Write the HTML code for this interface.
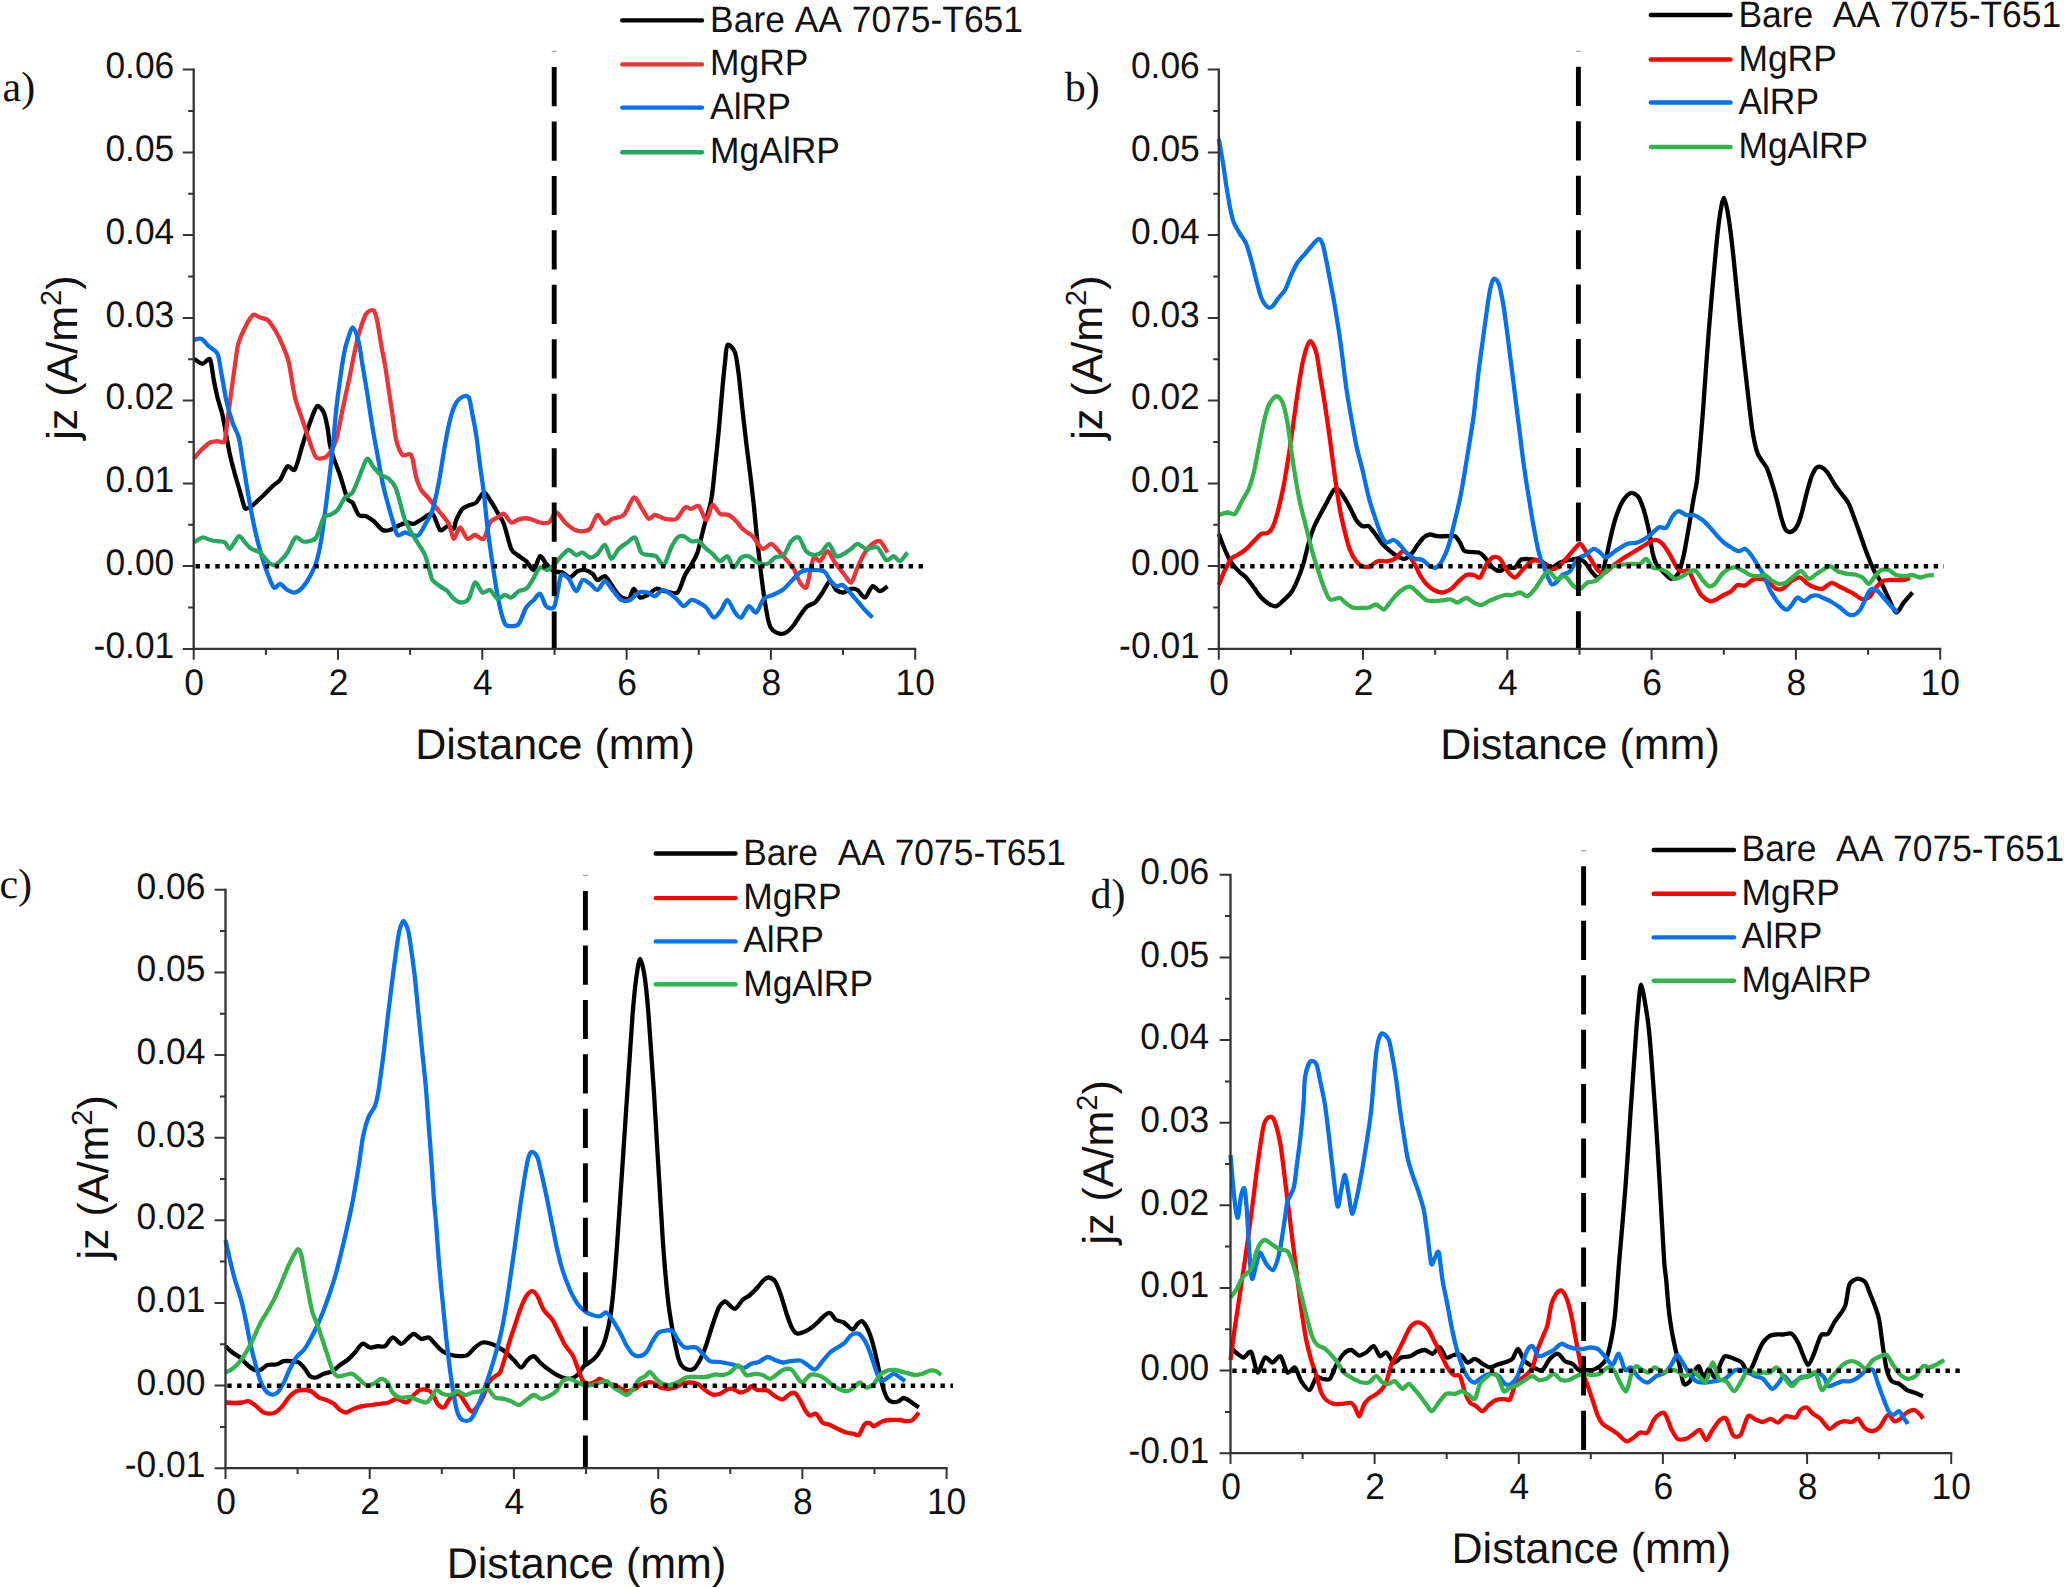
<!DOCTYPE html>
<html lang="en"><head><meta charset="utf-8"><title>jz vs Distance</title>
<style>html,body{margin:0;padding:0;background:#fff}body{width:2064px;height:1588px;overflow:hidden}svg{display:block}</style>
</head><body>
<svg width="2064" height="1588" viewBox="0 0 2064 1588" text-rendering="geometricPrecision" style="font-kerning:none">
<rect width="2064" height="1588" fill="#fff"/>
<g>
<path d="M193.8 358.8C195.0 359.5 200.2 363.6 202.5 363.8C204.8 363.9 208.4 357.2 210.0 359.5C211.6 361.8 212.7 374.6 213.8 380.0C214.8 385.4 216.3 392.5 217.5 397.5C218.7 402.5 221.3 409.7 222.5 415.0C223.7 420.3 225.2 429.3 226.2 435.0C227.3 440.7 228.9 450.0 230.0 455.0C231.1 460.0 232.5 465.4 233.8 470.0C235.0 474.6 237.3 482.5 238.8 487.5C240.2 492.5 242.8 502.0 243.8 505.0C244.7 508.0 244.4 508.6 245.5 508.8C246.6 508.9 248.8 508.0 251.2 506.2C253.7 504.5 259.5 499.1 262.5 496.2C265.5 493.4 270.0 488.6 272.5 486.2C275.0 483.9 277.9 482.8 280.0 480.0C282.1 477.2 285.4 467.8 287.5 466.2C289.6 464.7 292.9 472.3 295.0 469.2C297.1 466.2 300.4 451.6 302.5 445.0C304.6 438.4 307.9 428.0 310.0 422.5C312.1 417.0 315.1 407.7 317.0 406.2C318.9 404.8 322.3 409.5 323.8 412.5C325.2 415.5 326.6 422.9 327.5 427.5C328.4 432.1 329.1 440.6 330.0 445.0C330.9 449.4 332.3 454.5 333.8 458.8C335.2 463.0 338.1 469.3 340.0 475.0C341.9 480.7 345.7 494.9 347.5 498.8C349.3 502.6 350.9 500.2 352.5 502.5C354.1 504.8 356.8 513.1 358.8 515.0C360.7 516.9 364.1 515.4 366.2 516.2C368.4 517.1 371.4 519.3 373.8 521.2C376.1 523.2 380.2 528.8 382.5 530.0C384.8 531.2 387.5 530.7 390.0 530.0C392.5 529.3 397.5 526.1 400.0 525.0C402.5 523.9 405.6 522.7 407.5 522.5C409.4 522.3 411.6 524.3 413.8 523.8C415.9 523.2 419.8 520.2 422.5 518.8C425.2 517.3 430.0 512.2 432.5 513.8C435.0 515.3 437.9 528.2 440.0 530.0C442.1 531.8 445.6 526.4 447.5 526.2C449.4 526.1 452.5 529.6 453.8 528.8C455.0 527.9 455.0 522.8 456.2 520.0C457.5 517.2 460.6 510.9 462.5 508.8C464.4 506.6 468.1 505.9 470.0 505.0C471.9 504.1 474.3 504.3 476.2 502.5C478.2 500.7 481.8 492.9 483.8 492.5C485.7 492.1 488.1 497.2 490.0 500.0C491.9 502.8 495.6 509.1 497.5 512.5C499.4 515.9 501.8 518.6 503.8 523.8C505.7 528.9 509.3 544.3 511.2 548.8C513.2 553.2 515.4 553.2 517.5 555.0C519.6 556.8 523.9 559.1 526.2 561.2C528.6 563.4 531.8 570.7 533.8 570.0C535.7 569.3 538.2 557.1 540.0 556.2C541.8 555.4 544.3 561.6 546.2 563.8C548.2 565.9 551.4 570.0 553.8 571.2C556.1 572.5 560.2 571.6 562.5 572.5C564.8 573.4 567.9 577.7 570.0 577.5C572.1 577.3 575.4 572.3 577.5 571.2C579.6 570.2 582.9 569.6 585.0 570.0C587.1 570.4 590.7 572.3 592.5 573.8C594.3 575.2 595.7 579.6 597.5 580.0C599.3 580.4 602.9 575.4 605.0 576.2C607.1 577.1 610.4 583.4 612.5 586.2C614.6 589.1 617.7 594.5 620.0 596.2C622.3 598.0 626.8 599.8 628.8 598.8C630.7 597.7 632.2 588.9 633.8 588.8C635.3 588.6 638.1 596.6 640.0 597.5C641.9 598.4 645.2 596.2 647.5 595.0C649.8 593.8 653.8 589.3 656.2 588.8C658.7 588.2 662.0 590.7 665.0 591.2C668.0 591.8 674.7 594.8 677.5 592.5C680.3 590.2 683.1 578.9 685.0 575.0C686.9 571.1 689.5 568.2 691.2 565.0C693.0 561.8 695.7 557.8 697.5 552.5C699.3 547.2 701.8 534.9 703.8 527.5C705.7 520.1 709.7 508.5 711.2 500.0C712.8 491.5 713.9 477.4 715.0 467.5C716.1 457.6 717.7 441.3 718.8 430.0C719.8 418.7 721.6 397.1 722.5 387.5C723.4 377.9 724.3 368.5 725.0 362.5C725.7 356.5 726.1 346.4 727.5 345.0C728.9 343.6 733.4 348.2 735.0 352.5C736.6 356.8 737.7 366.9 738.8 375.0C739.8 383.1 741.4 400.4 742.5 410.0C743.6 419.6 745.2 433.6 746.2 442.5C747.3 451.4 748.9 463.6 750.0 472.5C751.1 481.4 752.7 495.1 753.8 505.0C754.8 514.9 756.4 532.6 757.5 542.5C758.6 552.4 760.2 566.5 761.2 575.0C762.3 583.5 763.9 595.8 765.0 602.5C766.1 609.2 767.7 618.6 768.8 622.5C769.8 626.4 770.9 628.4 772.5 630.0C774.1 631.6 778.1 633.4 780.0 633.8C781.9 634.1 784.3 633.7 786.2 632.5C788.2 631.3 791.6 627.7 793.8 625.0C795.9 622.3 799.3 616.4 801.2 613.8C803.2 611.1 805.6 607.8 807.5 606.2C809.4 604.7 812.9 604.4 815.0 602.5C817.1 600.6 820.4 595.5 822.5 592.5C824.6 589.5 828.1 581.6 830.0 581.2C831.9 580.9 834.3 588.4 836.2 590.0C838.2 591.6 841.6 592.7 843.8 592.5C845.9 592.3 849.3 589.1 851.2 588.8C853.2 588.4 855.6 588.8 857.5 590.0C859.4 591.2 862.9 598.0 865.0 597.5C867.1 597.0 870.4 587.1 872.5 586.2C874.6 585.4 877.9 591.2 880.0 591.2C882.1 591.2 886.4 587.0 887.5 586.2" fill="none" stroke="#000000" stroke-width="4.3" stroke-linejoin="round" stroke-linecap="butt"/>
<path d="M193.8 458.8C194.8 457.5 198.9 452.3 201.2 450.0C203.6 447.7 207.7 443.7 210.0 442.5C212.3 441.3 215.4 441.4 217.5 441.2C219.6 441.1 223.1 444.3 224.5 441.2C225.9 438.2 226.5 426.9 227.5 420.0C228.5 413.1 230.2 400.3 231.2 392.5C232.3 384.7 234.0 371.7 235.0 365.0C236.0 358.3 236.6 350.3 238.0 345.0C239.4 339.7 242.9 331.8 245.0 327.5C247.1 323.2 250.9 316.4 253.0 315.0C255.1 313.6 257.9 316.8 260.0 317.5C262.1 318.2 265.4 318.2 267.5 320.0C269.6 321.8 272.9 326.5 275.0 330.0C277.1 333.5 280.6 340.4 282.5 345.0C284.4 349.6 287.0 355.1 288.8 362.5C290.5 369.9 293.1 389.4 295.0 397.5C296.9 405.6 300.4 413.6 302.5 420.0C304.6 426.4 308.1 437.2 310.0 442.5C311.9 447.8 314.1 455.4 316.2 457.5C318.4 459.6 323.1 458.2 325.0 457.5C326.9 456.8 328.4 455.0 330.0 452.5C331.6 450.0 334.5 446.0 336.2 440.0C338.0 434.0 340.6 419.2 342.5 410.0C344.4 400.8 348.2 383.5 350.0 375.0C351.8 366.5 353.6 356.4 355.0 350.0C356.4 343.6 358.4 335.1 360.0 330.0C361.6 324.9 364.3 316.5 366.2 313.8C368.2 311.0 372.2 309.3 373.8 310.5C375.3 311.7 376.4 317.6 377.5 322.5C378.6 327.4 380.2 339.0 381.2 345.0C382.3 351.0 383.9 358.6 385.0 365.0C386.1 371.4 387.7 382.9 388.8 390.0C389.8 397.1 391.4 407.9 392.5 415.0C393.6 422.1 394.8 434.3 396.2 440.0C397.7 445.7 400.4 452.9 402.5 455.0C404.6 457.1 409.3 451.8 411.2 455.0C413.2 458.2 414.8 472.5 416.2 477.5C417.7 482.5 419.3 486.8 421.2 490.0C423.2 493.2 427.3 496.8 430.0 500.0C432.7 503.2 437.3 509.1 440.0 512.5C442.7 515.9 446.8 520.0 448.8 523.8C450.7 527.5 452.2 538.2 453.8 538.8C455.3 539.3 458.1 527.5 460.0 527.5C461.9 527.5 465.4 537.7 467.5 538.8C469.6 539.8 472.7 535.0 475.0 535.0C477.3 535.0 481.6 540.5 483.8 538.8C485.9 537.0 488.1 525.5 490.0 522.5C491.9 519.5 495.6 518.7 497.5 517.5C499.4 516.3 501.8 513.0 503.8 513.8C505.7 514.5 508.9 521.8 511.2 522.5C513.6 523.2 517.3 519.3 520.0 518.8C522.7 518.2 527.2 518.2 530.0 518.8C532.8 519.3 537.3 522.0 540.0 522.5C542.7 523.0 546.4 523.9 548.8 522.5C551.1 521.1 553.9 512.5 556.2 512.5C558.6 512.5 562.3 520.0 565.0 522.5C567.7 525.0 572.5 528.8 575.0 530.0C577.5 531.2 580.4 531.4 582.5 531.2C584.6 531.1 587.9 531.1 590.0 528.8C592.1 526.4 595.4 515.7 597.5 515.0C599.6 514.3 602.9 523.2 605.0 523.8C607.1 524.3 609.8 520.0 612.5 518.8C615.2 517.5 620.7 518.0 623.8 515.0C626.8 512.0 631.3 498.6 633.8 497.5C636.2 496.4 639.1 504.5 641.2 507.5C643.4 510.5 646.8 517.7 648.8 518.8C650.7 519.8 652.7 515.0 655.0 515.0C657.3 515.0 662.0 518.2 665.0 518.8C668.0 519.3 673.4 520.3 676.2 518.8C679.1 517.2 682.9 508.9 685.0 507.5C687.1 506.1 689.3 508.9 691.2 508.8C693.2 508.6 696.6 504.7 698.8 506.2C700.9 507.8 704.3 520.2 706.2 520.0C708.2 519.8 710.6 505.9 712.5 505.0C714.4 504.1 717.7 512.3 720.0 513.8C722.3 515.2 726.4 513.9 728.8 515.0C731.1 516.1 734.1 519.1 736.2 521.2C738.4 523.4 741.4 527.9 743.8 530.0C746.1 532.1 749.8 533.6 752.5 536.2C755.2 538.9 759.8 547.7 762.5 548.8C765.2 549.8 768.8 543.2 771.2 543.8C773.7 544.3 777.7 550.0 780.0 552.5C782.3 555.0 785.6 558.9 787.5 561.2C789.4 563.6 792.0 565.7 793.8 568.8C795.5 571.8 798.2 579.8 800.0 582.5C801.8 585.2 804.8 588.9 806.2 587.5C807.7 586.1 808.9 576.8 810.0 572.5C811.1 568.2 812.3 559.1 813.8 557.5C815.2 555.9 818.1 562.1 820.0 561.2C821.9 560.4 825.4 551.1 827.5 551.2C829.6 551.4 832.7 559.3 835.0 562.5C837.3 565.7 841.4 570.9 843.8 573.8C846.1 576.6 849.3 583.4 851.2 582.5C853.2 581.6 855.6 571.8 857.5 567.5C859.4 563.2 862.9 555.9 865.0 552.5C867.1 549.1 870.4 545.3 872.5 543.8C874.6 542.2 877.9 540.0 880.0 541.2C882.1 542.5 886.4 550.9 887.5 552.5" fill="none" stroke="#ee3338" stroke-width="4.3" stroke-linejoin="round" stroke-linecap="butt"/>
<path d="M193.8 340.0C194.8 339.8 199.1 337.9 201.2 338.8C203.4 339.6 206.4 344.1 208.8 346.2C211.1 348.4 215.7 350.0 217.5 353.8C219.3 357.5 220.0 365.9 221.2 372.5C222.5 379.1 224.7 392.9 226.2 400.0C227.8 407.1 230.7 417.2 232.5 422.5C234.3 427.8 237.3 432.2 238.8 437.5C240.2 442.8 241.4 453.6 242.5 460.0C243.6 466.4 245.2 476.1 246.2 482.5C247.3 488.9 248.8 498.3 250.0 505.0C251.2 511.7 253.6 523.6 255.0 530.0C256.4 536.4 258.4 544.3 260.0 550.0C261.6 555.7 264.3 564.7 266.2 570.0C268.2 575.3 271.8 585.6 273.8 587.5C275.7 589.4 278.1 583.4 280.0 583.8C281.9 584.1 285.4 588.8 287.5 590.0C289.6 591.2 292.9 592.9 295.0 592.5C297.1 592.1 300.4 589.8 302.5 587.5C304.6 585.2 308.1 579.8 310.0 576.2C311.9 572.7 314.7 567.6 316.2 562.5C317.8 557.4 320.0 547.1 321.2 540.0C322.5 532.9 323.9 520.6 325.0 512.5C326.1 504.4 327.7 491.4 328.8 482.5C329.8 473.6 331.4 460.3 332.5 450.0C333.6 439.7 335.2 419.9 336.2 410.0C337.3 400.1 338.9 387.8 340.0 380.0C341.1 372.2 342.7 360.7 343.8 355.0C344.8 349.3 346.2 343.9 347.5 340.0C348.8 336.1 351.4 327.1 353.0 327.5C354.6 327.9 357.4 337.2 358.8 342.5C360.1 347.8 361.3 357.6 362.5 365.0C363.7 372.4 366.1 386.1 367.5 395.0C368.9 403.9 371.1 419.0 372.5 427.5C373.9 436.0 376.1 447.2 377.5 455.0C378.9 462.8 381.1 475.8 382.5 482.5C383.9 489.2 386.1 497.2 387.5 502.5C388.9 507.8 391.1 515.4 392.5 520.0C393.9 524.6 395.7 533.2 397.5 535.0C399.3 536.8 402.9 532.5 405.0 532.5C407.1 532.5 410.6 534.6 412.5 535.0C414.4 535.4 416.8 536.8 418.8 535.0C420.7 533.2 424.3 526.0 426.2 522.5C428.2 519.0 430.7 515.7 432.5 510.0C434.3 504.3 437.0 491.7 438.8 482.5C440.5 473.3 443.4 453.9 445.0 445.0C446.6 436.1 448.6 425.7 450.0 420.0C451.4 414.3 453.4 408.2 455.0 405.0C456.6 401.8 459.3 398.6 461.2 397.5C463.2 396.4 467.2 395.0 468.8 397.5C470.3 400.0 471.4 409.7 472.5 415.0C473.6 420.3 475.2 427.9 476.2 435.0C477.3 442.1 478.9 456.9 480.0 465.0C481.1 473.1 482.7 483.6 483.8 492.5C484.8 501.4 486.4 518.6 487.5 527.5C488.6 536.4 490.2 547.6 491.2 555.0C492.3 562.4 493.8 572.6 495.0 580.0C496.2 587.4 498.6 601.3 500.0 607.5C501.4 613.7 503.4 621.1 505.0 623.8C506.6 626.4 509.3 626.2 511.2 626.2C513.2 626.2 516.6 626.4 518.8 623.8C520.9 621.1 524.1 610.9 526.2 607.5C528.4 604.1 531.8 601.9 533.8 600.0C535.7 598.1 538.2 592.9 540.0 593.8C541.8 594.6 544.3 604.3 546.2 606.2C548.2 608.2 552.2 609.4 553.8 607.5C555.3 605.6 556.4 597.1 557.5 592.5C558.6 587.9 559.7 576.9 561.2 575.0C562.8 573.1 566.6 576.4 568.8 578.8C570.9 581.1 574.3 591.1 576.2 591.2C578.2 591.4 580.6 581.1 582.5 580.0C584.4 578.9 587.9 582.3 590.0 583.8C592.1 585.2 595.4 590.4 597.5 590.0C599.6 589.6 602.9 581.2 605.0 581.2C607.1 581.2 610.2 587.3 612.5 590.0C614.8 592.7 618.8 598.6 621.2 600.0C623.7 601.4 627.5 601.1 630.0 600.0C632.5 598.9 636.3 593.6 638.8 592.5C641.2 591.4 645.2 592.0 647.5 592.5C649.8 593.0 652.9 596.6 655.0 596.2C657.1 595.9 660.4 590.4 662.5 590.0C664.6 589.6 667.9 592.3 670.0 593.8C672.1 595.2 675.6 598.2 677.5 600.0C679.4 601.8 681.8 606.2 683.8 606.2C685.7 606.2 689.1 600.5 691.2 600.0C693.4 599.5 696.6 601.4 698.8 602.5C700.9 603.6 704.1 605.4 706.2 607.5C708.4 609.6 711.6 617.1 713.8 617.5C715.9 617.9 719.3 612.5 721.2 610.0C723.2 607.5 725.6 599.6 727.5 600.0C729.4 600.4 733.1 610.0 735.0 612.5C736.9 615.0 739.3 618.4 741.2 617.5C743.2 616.6 746.6 607.0 748.8 606.2C750.9 605.5 754.1 613.6 756.2 612.5C758.4 611.4 761.4 601.2 763.8 598.8C766.1 596.3 769.8 596.2 772.5 595.0C775.2 593.8 779.8 591.9 782.5 590.0C785.2 588.1 788.8 583.7 791.2 581.2C793.7 578.8 797.7 574.1 800.0 572.5C802.3 570.9 804.1 570.2 807.5 570.0C810.9 569.8 820.6 569.8 823.8 571.2C826.9 572.7 828.2 577.9 830.0 580.0C831.8 582.1 834.5 585.5 836.2 586.2C838.0 587.0 840.6 584.1 842.5 585.0C844.4 585.9 847.9 590.2 850.0 592.5C852.1 594.8 855.4 598.8 857.5 601.2C859.6 603.7 862.9 607.7 865.0 610.0C867.1 612.3 871.4 616.4 872.5 617.5" fill="none" stroke="#0670e6" stroke-width="4.3" stroke-linejoin="round" stroke-linecap="butt"/>
<path d="M193.8 542.5C195.0 541.8 200.2 537.9 202.5 537.5C204.8 537.1 207.9 539.5 210.0 540.0C212.1 540.5 215.4 540.9 217.5 541.2C219.6 541.6 223.2 541.4 225.0 542.5C226.8 543.6 228.1 549.6 230.0 548.8C231.9 547.9 236.6 537.1 238.8 536.2C240.9 535.4 243.2 540.7 245.0 542.5C246.8 544.3 249.1 547.3 251.2 548.8C253.4 550.2 257.7 550.7 260.0 552.5C262.3 554.3 265.6 559.5 267.5 561.2C269.4 563.0 272.0 565.0 273.8 565.0C275.5 565.0 278.1 563.0 280.0 561.2C281.9 559.5 285.3 555.9 287.5 552.5C289.7 549.1 293.4 539.1 295.5 537.5C297.6 535.9 300.6 540.7 302.5 541.2C304.4 541.8 306.8 541.8 308.8 541.2C310.7 540.7 314.1 540.9 316.2 537.5C318.4 534.1 321.8 520.7 323.8 517.5C325.7 514.3 328.1 516.1 330.0 515.0C331.9 513.9 335.4 512.5 337.5 510.0C339.6 507.5 342.9 500.0 345.0 497.5C347.1 495.0 350.4 495.7 352.5 492.5C354.6 489.3 357.9 479.8 360.0 475.0C362.1 470.2 365.1 459.8 367.0 458.8C368.9 457.7 371.7 465.2 373.8 467.5C375.8 469.8 379.1 473.4 381.2 475.0C383.4 476.6 386.7 477.0 388.8 478.8C390.8 480.5 393.9 484.1 395.5 487.5C397.1 490.9 398.7 497.9 400.0 502.5C401.3 507.1 403.4 515.8 405.0 520.0C406.6 524.2 409.5 529.3 411.2 532.5C413.0 535.7 415.6 539.3 417.5 542.5C419.4 545.7 423.2 550.8 425.0 555.0C426.8 559.2 428.9 569.0 430.0 572.5C431.1 576.0 431.1 578.1 432.5 580.0C433.9 581.9 437.9 584.7 440.0 586.2C442.1 587.8 445.6 589.5 447.5 591.2C449.4 593.0 451.8 597.2 453.8 598.8C455.7 600.3 459.1 602.5 461.2 602.5C463.4 602.5 466.8 601.6 468.8 598.8C470.7 595.9 473.1 583.4 475.0 582.5C476.9 581.6 480.4 591.4 482.5 592.5C484.6 593.6 487.9 589.1 490.0 590.0C492.1 590.9 495.4 598.0 497.5 598.8C499.6 599.5 503.1 595.2 505.0 595.0C506.9 594.8 509.3 598.0 511.2 597.5C513.2 597.0 516.6 592.5 518.8 591.2C520.9 590.0 524.3 590.3 526.2 588.8C528.2 587.2 530.6 583.0 532.5 580.0C534.4 577.0 537.9 568.9 540.0 567.5C542.1 566.1 545.6 570.4 547.5 570.0C549.4 569.6 551.6 567.1 553.8 565.0C555.9 562.9 560.4 557.1 562.5 555.0C564.6 552.9 566.8 550.0 568.8 550.0C570.7 550.0 574.3 554.6 576.2 555.0C578.2 555.4 580.6 552.1 582.5 552.5C584.4 552.9 587.9 557.3 590.0 557.5C592.1 557.7 595.4 555.5 597.5 553.8C599.6 552.0 603.1 544.3 605.0 545.0C606.9 545.7 609.3 558.2 611.2 558.8C613.2 559.3 616.4 551.1 618.8 548.8C621.1 546.4 625.2 544.1 627.5 542.5C629.8 540.9 633.1 536.1 635.0 537.5C636.9 538.9 639.3 550.0 641.2 552.5C643.2 555.0 646.6 554.5 648.8 555.0C650.9 555.5 654.1 554.8 656.2 556.2C658.4 557.7 661.6 566.2 663.8 565.0C665.9 563.8 669.3 551.4 671.2 547.5C673.2 543.6 675.7 539.1 677.5 537.5C679.3 535.9 681.8 535.7 683.8 536.2C685.7 536.8 689.1 540.5 691.2 541.2C693.4 542.0 696.6 540.2 698.8 541.2C700.9 542.3 704.3 547.0 706.2 548.8C708.2 550.5 710.6 552.0 712.5 553.8C714.4 555.5 717.9 560.9 720.0 561.2C722.1 561.6 725.6 555.4 727.5 556.2C729.4 557.1 731.8 567.3 733.8 567.5C735.7 567.7 739.1 559.1 741.2 557.5C743.4 555.9 746.4 555.5 748.8 556.2C751.1 557.0 754.8 561.4 757.5 562.5C760.2 563.6 765.0 564.5 767.5 563.8C770.0 563.0 772.7 558.7 775.0 557.5C777.3 556.3 781.4 557.3 783.8 555.0C786.1 552.7 789.1 543.7 791.2 541.2C793.4 538.8 796.6 536.1 798.8 537.5C800.9 538.9 804.1 548.8 806.2 551.2C808.4 553.7 811.6 554.8 813.8 555.0C815.9 555.2 819.1 554.1 821.2 552.5C823.4 550.9 826.6 543.2 828.8 543.8C830.9 544.3 834.1 554.8 836.2 556.2C838.4 557.7 841.6 554.8 843.8 553.8C845.9 552.7 849.3 550.2 851.2 548.8C853.2 547.3 855.4 543.8 857.5 543.8C859.6 543.8 863.4 548.2 866.2 548.8C869.1 549.3 874.7 545.9 877.5 547.5C880.3 549.1 883.9 558.8 886.2 560.0C888.6 561.2 891.8 556.1 893.8 556.2C895.7 556.4 898.1 561.8 900.0 561.2C901.9 560.7 906.4 553.7 907.5 552.5" fill="none" stroke="#27a660" stroke-width="4.3" stroke-linejoin="round" stroke-linecap="butt"/>
<line x1="195.5" y1="566.2" x2="925.0" y2="566.2" stroke="#000" stroke-width="4.5" stroke-dasharray="4.4 5.505"/>
<line x1="554.2" y1="67.0" x2="554.2" y2="648.9" stroke="#000" stroke-width="4.9" stroke-dasharray="39.2 15.25"/>
<rect x="551.7" y="50.8" width="5" height="1.3" fill="#a8a8a8"/>
<path d="M193.7 68.5V648.9H916.3" fill="none" stroke="#333333" stroke-width="2.3" stroke-linejoin="miter"/>
<path d="M193.7 648.9H182.8M193.7 607.5H188.2M193.7 566.1H182.8M193.7 524.8H188.2M193.7 483.4H182.8M193.7 442.0H188.2M193.7 400.6H182.8M193.7 359.2H188.2M193.7 317.9H182.8M193.7 276.5H188.2M193.7 235.1H182.8M193.7 193.7H188.2M193.7 152.4H182.8M193.7 111.0H188.2M193.7 69.6H182.8M193.7 648.9V659.8M265.9 648.9V654.7M338.0 648.9V659.8M410.1 648.9V654.7M482.3 648.9V659.8M554.5 648.9V654.7M626.6 648.9V659.8M698.8 648.9V654.7M770.9 648.9V659.8M843.0 648.9V654.7M915.2 648.9V659.8" fill="none" stroke="#333333" stroke-width="2.0"/>
<g font-family="Liberation Sans, Arial, sans-serif" font-size="35.4" fill="#111">
<text transform="translate(174.3 657.5) scale(0.9611 1)" font-size="36.83" text-anchor="end">-0.01</text>
<text transform="translate(174.3 574.7) scale(0.9611 1)" font-size="36.83" text-anchor="end">0.00</text>
<text transform="translate(174.3 492.0) scale(0.9611 1)" font-size="36.83" text-anchor="end">0.01</text>
<text transform="translate(174.3 409.2) scale(0.9611 1)" font-size="36.83" text-anchor="end">0.02</text>
<text transform="translate(174.3 326.5) scale(0.9611 1)" font-size="36.83" text-anchor="end">0.03</text>
<text transform="translate(174.3 243.7) scale(0.9611 1)" font-size="36.83" text-anchor="end">0.04</text>
<text transform="translate(174.3 161.0) scale(0.9611 1)" font-size="36.83" text-anchor="end">0.05</text>
<text transform="translate(174.3 78.2) scale(0.9611 1)" font-size="36.83" text-anchor="end">0.06</text>
<text transform="translate(194.2 694.6) scale(0.9611 1)" font-size="36.83" text-anchor="middle">0</text>
<text transform="translate(338.5 694.6) scale(0.9611 1)" font-size="36.83" text-anchor="middle">2</text>
<text transform="translate(482.8 694.6) scale(0.9611 1)" font-size="36.83" text-anchor="middle">4</text>
<text transform="translate(627.1 694.6) scale(0.9611 1)" font-size="36.83" text-anchor="middle">6</text>
<text transform="translate(771.4 694.6) scale(0.9611 1)" font-size="36.83" text-anchor="middle">8</text>
<text transform="translate(915.2 694.6) scale(0.9611 1)" font-size="36.83" text-anchor="middle">10</text>
<text transform="translate(710.1 32.0) scale(0.9611 1)" font-size="36.83" text-anchor="start">Bare AA 7075-T651</text>
<text transform="translate(710.1 75.4) scale(0.9611 1)" font-size="36.83" text-anchor="start">MgRP</text>
<text transform="translate(710.1 119.0) scale(0.9611 1)" font-size="36.83" text-anchor="start">AlRP</text>
<text transform="translate(710.1 162.6) scale(0.9611 1)" font-size="36.83" text-anchor="start">MgAlRP</text>
</g>
<line x1="622.3" y1="20.4" x2="702.0" y2="20.4" stroke="#000000" stroke-width="4.4" stroke-linecap="round"/>
<line x1="622.3" y1="64.4" x2="702.0" y2="64.4" stroke="#ee3338" stroke-width="4.4" stroke-linecap="round"/>
<line x1="622.3" y1="107.6" x2="702.0" y2="107.6" stroke="#0670e6" stroke-width="4.4" stroke-linecap="round"/>
<line x1="622.3" y1="152.2" x2="702.0" y2="152.2" stroke="#27a660" stroke-width="4.4" stroke-linecap="round"/>
<text font-family="Liberation Sans, Arial, sans-serif" font-size="43.0" fill="#111" x="555.0" y="758.6" text-anchor="middle">Distance (mm)</text>
<text font-family="Liberation Sans, Arial, sans-serif" font-size="43.0" fill="#111" text-anchor="middle" transform="translate(76.9 357.6) rotate(-90)">jz (A/m<tspan font-size="29" dy="-15.6">2</tspan><tspan dy="15.6">)</tspan></text>
<text font-family="Liberation Serif, Times New Roman, serif" font-size="42" fill="#111" x="2.6" y="101.0">a)</text>
</g>
<g>
<path d="M1218.8 533.8C1219.6 536.1 1223.2 545.9 1225.0 550.0C1226.8 554.1 1229.3 559.5 1231.2 562.5C1233.2 565.5 1236.6 569.1 1238.8 571.2C1240.9 573.4 1244.1 575.2 1246.2 577.5C1248.4 579.8 1251.6 584.7 1253.8 587.5C1255.9 590.3 1259.1 595.2 1261.2 597.5C1263.4 599.8 1266.6 602.5 1268.8 603.8C1270.9 605.0 1274.1 606.8 1276.2 606.2C1278.4 605.7 1281.6 601.9 1283.8 600.0C1285.9 598.1 1289.3 595.3 1291.2 592.5C1293.2 589.7 1295.7 584.2 1297.5 580.0C1299.3 575.8 1302.2 567.8 1303.8 562.5C1305.3 557.2 1307.3 547.5 1308.8 542.5C1310.2 537.5 1312.2 531.4 1313.8 527.5C1315.3 523.6 1318.1 518.7 1320.0 515.0C1321.9 511.3 1325.6 504.8 1327.5 501.2C1329.4 497.7 1332.2 491.6 1333.8 490.0C1335.3 488.4 1337.2 488.8 1338.8 490.0C1340.3 491.2 1343.2 495.9 1345.0 498.8C1346.8 501.6 1349.7 507.0 1351.2 510.0C1352.8 513.0 1354.7 517.7 1356.2 520.0C1357.8 522.3 1360.7 525.4 1362.5 526.2C1364.3 527.1 1367.0 525.2 1368.8 526.2C1370.5 527.3 1373.2 531.4 1375.0 533.8C1376.8 536.1 1379.3 540.2 1381.2 542.5C1383.2 544.8 1386.4 548.1 1388.8 550.0C1391.1 551.9 1395.2 555.0 1397.5 556.2C1399.8 557.5 1402.9 559.3 1405.0 558.8C1407.1 558.2 1410.7 554.4 1412.5 552.5C1414.3 550.6 1415.9 547.1 1417.5 545.0C1419.1 542.9 1422.0 539.0 1423.8 537.5C1425.5 536.0 1428.1 534.7 1430.0 534.5C1431.9 534.3 1435.2 536.0 1437.5 536.2C1439.8 536.5 1443.8 536.2 1446.2 536.2C1448.7 536.2 1453.1 535.4 1455.0 536.2C1456.9 537.1 1458.6 540.4 1460.0 542.5C1461.4 544.6 1462.3 549.8 1465.0 551.2C1467.7 552.7 1475.9 551.6 1478.8 552.5C1481.6 553.4 1483.1 555.4 1485.0 557.5C1486.9 559.6 1490.4 565.6 1492.5 567.5C1494.6 569.4 1498.1 571.2 1500.0 571.2C1501.9 571.2 1504.1 568.0 1506.2 567.5C1508.4 567.0 1512.9 568.6 1515.0 567.5C1517.1 566.4 1518.8 560.6 1521.2 559.5C1523.7 558.4 1529.7 559.3 1532.5 559.5C1535.3 559.7 1538.6 560.1 1541.2 561.2C1543.9 562.4 1548.6 567.3 1551.2 567.5C1553.9 567.7 1557.3 563.6 1560.0 562.5C1562.7 561.4 1567.3 560.5 1570.0 560.0C1572.7 559.5 1576.6 558.4 1578.8 558.8C1580.9 559.1 1583.2 560.7 1585.0 562.5C1586.8 564.3 1589.5 569.1 1591.2 571.2C1593.0 573.4 1595.9 577.3 1597.5 577.5C1599.1 577.7 1601.3 575.3 1602.5 572.5C1603.7 569.7 1605.2 562.1 1606.2 557.5C1607.3 552.9 1608.8 545.3 1610.0 540.0C1611.2 534.7 1613.4 525.1 1615.0 520.0C1616.6 514.9 1619.5 507.3 1621.2 503.8C1623.0 500.2 1625.9 496.5 1627.5 495.0C1629.1 493.5 1630.9 492.6 1632.5 493.0C1634.1 493.4 1637.2 495.1 1638.8 497.5C1640.3 499.9 1642.3 505.4 1643.8 510.0C1645.2 514.6 1647.5 524.0 1648.8 530.0C1650.0 536.0 1651.4 547.7 1652.5 552.5C1653.6 557.3 1654.8 561.1 1656.2 563.8C1657.7 566.4 1660.4 569.1 1662.5 571.2C1664.6 573.4 1668.9 578.6 1671.2 578.8C1673.6 578.9 1677.0 575.9 1678.8 572.5C1680.5 569.1 1682.3 561.4 1683.8 555.0C1685.2 548.6 1687.3 535.6 1688.8 527.5C1690.2 519.4 1692.6 504.2 1693.8 497.5C1694.9 490.8 1696.0 488.6 1697.0 480.2C1698.0 471.7 1699.9 448.2 1700.8 437.8C1701.7 427.5 1702.1 421.9 1703.3 406.8C1704.4 391.7 1707.0 352.7 1708.8 331.2C1710.5 309.8 1713.8 271.7 1715.4 255.6C1716.9 239.5 1718.3 226.0 1719.5 217.8C1720.7 209.6 1722.6 198.0 1723.9 198.0C1725.2 198.0 1727.3 209.6 1728.6 217.8C1729.9 226.0 1731.6 239.5 1733.3 255.6C1735.1 271.7 1738.6 309.8 1740.9 331.2C1743.2 352.7 1747.7 392.1 1749.4 406.8C1751.1 421.6 1752.0 428.5 1753.2 435.2C1754.4 441.9 1756.0 449.5 1757.9 454.1C1759.8 458.7 1764.5 463.6 1766.4 467.3C1768.3 471.0 1769.7 475.9 1771.1 480.2C1772.5 484.5 1774.8 492.2 1776.2 497.5C1777.7 502.8 1780.0 513.1 1781.2 517.5C1782.5 521.9 1783.8 526.7 1785.0 528.8C1786.2 530.8 1788.4 532.2 1790.0 532.0C1791.6 531.8 1794.7 529.9 1796.2 527.5C1797.8 525.1 1799.8 519.6 1801.2 515.0C1802.7 510.4 1804.8 500.3 1806.2 495.0C1807.7 489.7 1809.8 481.3 1811.2 477.5C1812.7 473.7 1814.8 469.5 1816.2 468.0C1817.7 466.5 1819.7 466.4 1821.2 467.0C1822.8 467.6 1825.6 469.9 1827.5 472.5C1829.4 475.1 1832.9 481.8 1835.0 485.0C1837.1 488.2 1840.6 492.3 1842.5 495.0C1844.4 497.7 1847.0 500.2 1848.8 503.8C1850.5 507.3 1853.2 515.2 1855.0 520.0C1856.8 524.8 1859.5 532.5 1861.2 537.5C1863.0 542.5 1865.7 550.4 1867.5 555.0C1869.3 559.6 1871.8 566.1 1873.8 570.0C1875.7 573.9 1879.1 578.4 1881.2 582.5C1883.4 586.6 1886.6 594.5 1888.8 598.8C1890.9 603.0 1894.1 612.0 1896.2 612.5C1898.4 613.0 1901.4 605.3 1903.8 602.5C1906.1 599.7 1911.3 593.9 1912.5 592.5" fill="none" stroke="#000000" stroke-width="4.3" stroke-linejoin="round" stroke-linecap="butt"/>
<path d="M1218.8 585.0C1219.6 582.9 1223.2 573.7 1225.0 570.0C1226.8 566.3 1229.5 560.9 1231.2 558.8C1233.0 556.6 1235.6 556.2 1237.5 555.0C1239.4 553.8 1242.7 551.9 1245.0 550.0C1247.3 548.1 1251.4 543.6 1253.8 541.2C1256.1 538.9 1259.3 534.9 1261.2 533.8C1263.2 532.6 1265.9 533.9 1267.5 533.0C1269.1 532.1 1271.1 530.4 1272.5 527.5C1273.9 524.6 1275.9 518.5 1277.5 512.5C1279.1 506.5 1282.2 493.1 1283.8 485.0C1285.3 476.9 1287.3 464.2 1288.8 455.0C1290.2 445.8 1292.3 429.9 1293.8 420.0C1295.2 410.1 1297.3 393.9 1298.8 385.0C1300.2 376.1 1302.2 363.7 1303.8 357.5C1305.3 351.3 1308.2 342.0 1310.0 341.2C1311.8 340.5 1314.8 347.7 1316.2 352.5C1317.7 357.3 1318.8 367.6 1320.0 375.0C1321.2 382.4 1323.6 395.8 1325.0 405.0C1326.4 414.2 1328.6 429.7 1330.0 440.0C1331.4 450.3 1333.6 467.6 1335.0 477.5C1336.4 487.4 1338.6 502.2 1340.0 510.0C1341.4 517.8 1343.6 526.8 1345.0 532.5C1346.4 538.2 1348.4 545.9 1350.0 550.0C1351.6 554.1 1354.5 558.9 1356.2 561.2C1358.0 563.6 1360.6 565.5 1362.5 566.2C1364.4 567.0 1367.9 567.0 1370.0 566.2C1372.1 565.5 1375.0 562.0 1377.5 561.2C1380.0 560.5 1385.0 561.6 1387.5 561.2C1390.0 560.9 1392.9 560.2 1395.0 558.8C1397.1 557.3 1400.6 551.8 1402.5 551.2C1404.4 550.7 1407.0 553.1 1408.8 555.0C1410.5 556.9 1413.4 562.2 1415.0 565.0C1416.6 567.8 1418.4 572.3 1420.0 575.0C1421.6 577.7 1424.3 581.6 1426.2 583.8C1428.2 585.9 1431.4 588.8 1433.8 590.0C1436.1 591.2 1440.0 592.7 1442.5 592.5C1445.0 592.3 1448.9 590.3 1451.2 588.8C1453.6 587.2 1456.6 583.2 1458.8 581.2C1460.9 579.3 1464.1 575.9 1466.2 575.0C1468.4 574.1 1471.8 574.6 1473.8 575.0C1475.7 575.4 1478.2 578.9 1480.0 577.5C1481.8 576.1 1484.5 567.8 1486.2 565.0C1488.0 562.2 1490.6 558.4 1492.5 557.5C1494.4 556.6 1497.9 556.8 1500.0 558.8C1502.1 560.7 1505.4 568.6 1507.5 571.2C1509.6 573.9 1512.9 577.7 1515.0 577.5C1517.1 577.3 1520.4 572.1 1522.5 570.0C1524.6 567.9 1528.1 563.9 1530.0 562.5C1531.9 561.1 1534.3 559.8 1536.2 560.0C1538.2 560.2 1541.6 562.5 1543.8 563.8C1545.9 565.0 1549.3 568.2 1551.2 568.8C1553.2 569.3 1555.6 568.7 1557.5 567.5C1559.4 566.3 1562.9 562.3 1565.0 560.0C1567.1 557.7 1570.4 553.6 1572.5 551.2C1574.6 548.9 1578.2 543.9 1580.0 543.8C1581.8 543.6 1583.4 547.7 1585.0 550.0C1586.6 552.3 1589.3 557.0 1591.2 560.0C1593.2 563.0 1596.8 569.5 1598.8 571.2C1600.7 573.0 1603.1 573.2 1605.0 572.5C1606.9 571.8 1610.0 568.2 1612.5 566.2C1615.0 564.3 1619.3 560.9 1622.5 558.8C1625.7 556.6 1631.8 553.2 1635.0 551.2C1638.2 549.3 1642.3 546.6 1645.0 545.0C1647.7 543.4 1651.3 540.2 1653.8 540.0C1656.2 539.8 1660.2 541.6 1662.5 543.8C1664.8 545.9 1667.9 551.5 1670.0 555.0C1672.1 558.5 1675.7 566.4 1677.5 568.8C1679.3 571.1 1680.9 570.9 1682.5 571.2C1684.1 571.6 1687.0 569.5 1688.8 571.2C1690.5 573.0 1693.2 580.4 1695.0 583.8C1696.8 587.1 1699.1 592.5 1701.2 595.0C1703.4 597.5 1708.1 600.5 1710.0 601.2C1711.9 602.0 1713.9 600.4 1715.0 600.0C1716.1 599.6 1716.3 599.5 1717.5 598.8C1718.7 598.0 1721.8 596.1 1723.8 595.0C1725.7 593.9 1729.3 592.7 1731.2 591.2C1733.2 589.8 1735.6 585.8 1737.5 585.0C1739.4 584.2 1742.9 586.2 1745.0 585.5C1747.1 584.8 1750.4 581.0 1752.5 580.0C1754.6 579.0 1757.9 578.6 1760.0 578.8C1762.1 578.9 1765.2 579.8 1767.5 581.2C1769.8 582.7 1774.1 587.7 1776.2 588.8C1778.4 589.8 1780.4 589.8 1782.5 588.8C1784.6 587.7 1788.8 582.8 1791.2 581.2C1793.7 579.7 1797.7 577.1 1800.0 577.5C1802.3 577.9 1805.4 582.3 1807.5 583.8C1809.6 585.2 1812.9 586.8 1815.0 587.5C1817.1 588.2 1820.2 589.4 1822.5 588.8C1824.8 588.1 1828.9 583.4 1831.2 583.0C1833.6 582.6 1836.6 585.3 1838.8 586.2C1840.9 587.2 1844.1 588.9 1846.2 590.0C1848.4 591.1 1851.6 592.5 1853.8 593.8C1855.9 595.0 1859.1 598.2 1861.2 598.8C1863.4 599.3 1866.8 598.9 1868.8 597.5C1870.7 596.1 1873.1 591.1 1875.0 588.8C1876.9 586.4 1880.4 582.5 1882.5 581.2C1884.6 580.0 1887.2 580.2 1890.0 580.0C1892.8 579.8 1899.7 580.3 1902.5 580.0C1905.3 579.7 1908.9 578.3 1910.0 578.0" fill="none" stroke="#ff0000" stroke-width="4.3" stroke-linejoin="round" stroke-linecap="butt"/>
<path d="M1218.8 139.0C1219.3 142.0 1221.4 153.5 1222.5 160.0C1223.6 166.5 1225.2 178.3 1226.2 185.0C1227.3 191.7 1228.9 202.2 1230.0 207.5C1231.1 212.8 1232.3 218.8 1233.8 222.5C1235.2 226.2 1238.2 230.7 1240.0 233.8C1241.8 236.8 1244.7 240.0 1246.2 243.8C1247.8 247.5 1249.8 254.9 1251.2 260.0C1252.7 265.1 1254.8 274.7 1256.2 280.0C1257.7 285.3 1259.7 293.7 1261.2 297.5C1262.8 301.3 1265.9 305.8 1267.5 307.0C1269.1 308.2 1270.9 307.6 1272.5 306.2C1274.1 304.9 1277.0 299.8 1278.8 297.5C1280.5 295.2 1283.2 293.2 1285.0 290.0C1286.8 286.8 1289.5 278.9 1291.2 275.0C1293.0 271.1 1295.6 265.5 1297.5 262.5C1299.4 259.5 1302.9 256.2 1305.0 253.8C1307.1 251.3 1310.6 247.1 1312.5 245.0C1314.4 242.9 1317.3 238.9 1318.8 238.8C1320.2 238.6 1321.4 240.7 1322.5 243.8C1323.6 246.8 1325.2 254.9 1326.2 260.0C1327.3 265.1 1328.9 274.3 1330.0 280.0C1331.1 285.7 1332.7 294.0 1333.8 300.0C1334.8 306.0 1336.4 315.8 1337.5 322.5C1338.6 329.2 1340.0 338.3 1341.2 347.5C1342.5 356.7 1344.8 377.6 1346.2 387.5C1347.7 397.4 1349.8 409.4 1351.2 417.5C1352.7 425.6 1354.7 437.6 1356.2 445.0C1357.8 452.4 1360.7 462.6 1362.5 470.0C1364.3 477.4 1367.0 490.8 1368.8 497.5C1370.5 504.2 1373.2 512.2 1375.0 517.5C1376.8 522.8 1379.7 531.5 1381.2 535.0C1382.8 538.5 1384.5 541.8 1386.2 542.5C1388.0 543.2 1391.8 539.6 1393.8 540.0C1395.7 540.4 1398.1 543.1 1400.0 545.0C1401.9 546.9 1405.4 551.8 1407.5 553.8C1409.6 555.7 1412.9 557.9 1415.0 558.8C1417.1 559.6 1420.4 558.9 1422.5 560.0C1424.6 561.1 1428.1 565.2 1430.0 566.2C1431.9 567.3 1434.5 568.4 1436.2 567.5C1438.0 566.6 1440.7 563.2 1442.5 560.0C1444.3 556.8 1447.0 550.7 1448.8 545.0C1450.5 539.3 1453.2 527.4 1455.0 520.0C1456.8 512.6 1459.5 501.7 1461.2 492.5C1463.0 483.3 1465.7 466.0 1467.5 455.0C1469.3 444.0 1472.2 427.0 1473.8 415.0C1475.3 403.0 1477.5 380.3 1478.8 370.0C1480.0 359.7 1481.4 350.3 1482.5 342.5C1483.6 334.7 1485.2 322.4 1486.2 315.0C1487.3 307.6 1488.9 295.1 1490.0 290.0C1491.1 284.9 1492.5 279.6 1493.8 278.8C1495.0 277.9 1497.5 280.7 1498.8 283.8C1500.0 286.8 1501.4 294.2 1502.5 300.0C1503.6 305.8 1505.2 317.2 1506.2 325.0C1507.3 332.8 1508.9 346.5 1510.0 355.0C1511.1 363.5 1512.5 375.1 1513.8 385.0C1515.0 394.9 1517.3 413.7 1518.8 425.0C1520.2 436.3 1522.3 454.7 1523.8 465.0C1525.2 475.3 1527.3 488.6 1528.8 497.5C1530.2 506.4 1532.3 519.7 1533.8 527.5C1535.2 535.3 1537.2 546.5 1538.8 552.5C1540.3 558.5 1543.2 565.6 1545.0 570.0C1546.8 574.4 1549.7 582.0 1551.2 583.8C1552.8 585.5 1554.7 583.7 1556.2 582.5C1557.8 581.3 1560.6 576.6 1562.5 575.0C1564.4 573.4 1567.9 573.6 1570.0 571.2C1572.1 568.9 1575.4 561.1 1577.5 558.8C1579.6 556.4 1582.7 556.4 1585.0 555.0C1587.3 553.6 1591.6 549.1 1593.8 548.8C1595.9 548.4 1598.2 551.3 1600.0 552.5C1601.8 553.7 1604.1 557.7 1606.2 557.5C1608.4 557.3 1612.0 553.2 1615.0 551.2C1618.0 549.3 1624.3 545.0 1627.5 543.8C1630.7 542.5 1634.5 543.6 1637.5 542.5C1640.5 541.4 1645.7 538.4 1648.8 536.2C1651.8 534.1 1656.3 528.7 1658.8 527.5C1661.2 526.3 1664.3 529.1 1666.2 527.5C1668.2 525.9 1670.7 518.6 1672.5 516.2C1674.3 513.9 1676.8 511.4 1678.8 511.2C1680.7 511.1 1684.1 514.5 1686.2 515.0C1688.4 515.5 1691.4 514.3 1693.8 515.0C1696.1 515.7 1700.2 518.2 1702.5 520.0C1704.8 521.8 1707.9 525.2 1710.0 527.5C1712.1 529.8 1715.6 534.1 1717.5 536.2C1719.4 538.4 1721.8 540.9 1723.8 542.5C1725.7 544.1 1729.1 546.3 1731.2 547.5C1733.4 548.7 1736.8 551.1 1738.8 551.2C1740.7 551.4 1743.2 548.2 1745.0 548.8C1746.8 549.3 1749.5 552.7 1751.2 555.0C1753.0 557.3 1755.7 562.2 1757.5 565.0C1759.3 567.8 1762.0 571.5 1763.8 575.0C1765.5 578.5 1768.2 586.5 1770.0 590.0C1771.8 593.5 1774.5 597.5 1776.2 600.0C1778.0 602.5 1780.9 606.2 1782.5 607.5C1784.1 608.8 1786.1 610.0 1787.5 609.5C1788.9 609.0 1791.1 605.5 1792.5 603.8C1793.9 602.0 1795.9 597.9 1797.5 597.5C1799.1 597.1 1801.8 601.4 1803.8 601.2C1805.7 601.1 1809.3 597.1 1811.2 596.2C1813.2 595.4 1815.6 595.1 1817.5 595.5C1819.4 595.9 1822.9 597.8 1825.0 598.8C1827.1 599.7 1830.4 601.3 1832.5 602.5C1834.6 603.7 1837.9 605.9 1840.0 607.5C1842.1 609.1 1845.6 612.7 1847.5 613.8C1849.4 614.8 1852.0 615.5 1853.8 615.0C1855.5 614.5 1858.4 612.1 1860.0 610.0C1861.6 607.9 1863.6 602.8 1865.0 600.0C1866.4 597.2 1868.4 591.4 1870.0 590.0C1871.6 588.6 1874.5 589.1 1876.2 590.0C1878.0 590.9 1880.6 594.1 1882.5 596.2C1884.4 598.4 1887.9 602.7 1890.0 605.0C1892.1 607.3 1896.4 611.4 1897.5 612.5" fill="none" stroke="#0572ec" stroke-width="4.3" stroke-linejoin="round" stroke-linecap="butt"/>
<path d="M1218.8 515.0C1220.0 514.6 1225.2 512.7 1227.5 512.5C1229.8 512.3 1232.9 515.5 1235.0 513.8C1237.1 512.0 1240.6 503.5 1242.5 500.0C1244.4 496.5 1247.2 492.6 1248.8 488.8C1250.3 484.9 1252.3 478.3 1253.8 472.5C1255.2 466.7 1257.3 454.6 1258.8 447.5C1260.2 440.4 1262.3 428.5 1263.8 422.5C1265.2 416.5 1267.0 408.7 1268.8 405.0C1270.5 401.3 1274.3 396.6 1276.2 396.2C1278.2 395.9 1280.9 398.8 1282.5 402.5C1284.1 406.2 1286.3 415.8 1287.5 422.5C1288.7 429.2 1290.2 442.6 1291.2 450.0C1292.3 457.4 1293.8 467.6 1295.0 475.0C1296.2 482.4 1298.4 495.1 1300.0 502.5C1301.6 509.9 1304.5 520.4 1306.2 527.5C1308.0 534.6 1310.7 546.1 1312.5 552.5C1314.3 558.9 1317.0 567.2 1318.8 572.5C1320.5 577.8 1323.4 586.2 1325.0 590.0C1326.6 593.8 1327.9 598.4 1330.0 599.5C1332.1 600.6 1337.9 597.6 1340.0 598.0C1342.1 598.4 1343.2 601.2 1345.0 602.5C1346.8 603.8 1350.4 606.7 1352.5 607.5C1354.6 608.3 1357.7 608.0 1360.0 608.0C1362.3 608.0 1366.4 608.0 1368.8 607.5C1371.1 607.0 1374.1 604.2 1376.2 604.5C1378.4 604.8 1381.8 609.8 1383.8 609.5C1385.7 609.2 1388.1 604.7 1390.0 602.5C1391.9 600.3 1395.4 595.8 1397.5 593.8C1399.6 591.7 1403.1 589.0 1405.0 588.0C1406.9 587.0 1409.5 586.4 1411.2 587.0C1413.0 587.6 1415.4 590.7 1417.5 592.5C1419.6 594.3 1423.8 598.8 1426.2 600.0C1428.7 601.2 1432.3 601.2 1435.0 601.2C1437.7 601.2 1442.7 600.2 1445.0 600.0C1447.3 599.8 1449.5 599.1 1451.2 599.5C1453.0 599.9 1455.4 602.7 1457.5 602.5C1459.6 602.3 1463.9 598.0 1466.2 598.0C1468.6 598.0 1471.6 601.5 1473.8 602.5C1475.9 603.5 1478.9 605.3 1481.2 605.0C1483.6 604.7 1487.7 601.6 1490.0 600.5C1492.3 599.4 1495.4 598.3 1497.5 597.5C1499.6 596.7 1502.9 595.4 1505.0 595.0C1507.1 594.6 1510.4 595.4 1512.5 595.0C1514.6 594.6 1517.9 592.3 1520.0 592.5C1522.1 592.7 1525.4 596.8 1527.5 596.2C1529.6 595.7 1532.9 591.4 1535.0 588.8C1537.1 586.1 1540.6 580.0 1542.5 577.5C1544.4 575.0 1546.8 571.1 1548.8 571.2C1550.7 571.4 1553.9 578.0 1556.2 578.8C1558.6 579.5 1562.7 575.4 1565.0 576.2C1567.3 577.1 1570.4 583.2 1572.5 585.0C1574.6 586.8 1577.9 589.1 1580.0 588.8C1582.1 588.4 1585.4 583.6 1587.5 582.5C1589.6 581.4 1592.9 582.3 1595.0 581.2C1597.1 580.2 1600.4 576.9 1602.5 575.0C1604.6 573.1 1607.5 568.9 1610.0 567.5C1612.5 566.1 1617.2 565.5 1620.0 565.0C1622.8 564.5 1627.2 563.9 1630.0 563.8C1632.8 563.6 1637.7 564.5 1640.0 563.8C1642.3 563.0 1644.5 558.2 1646.2 558.8C1648.0 559.3 1650.6 566.1 1652.5 567.5C1654.4 568.9 1657.9 568.0 1660.0 568.8C1662.1 569.5 1665.4 571.1 1667.5 572.5C1669.6 573.9 1672.9 578.2 1675.0 578.8C1677.1 579.3 1680.4 577.3 1682.5 576.2C1684.6 575.2 1688.1 572.0 1690.0 571.2C1691.9 570.5 1694.5 570.0 1696.2 571.2C1698.0 572.5 1700.7 577.9 1702.5 580.0C1704.3 582.1 1707.0 585.7 1708.8 586.2C1710.5 586.8 1713.2 585.3 1715.0 583.8C1716.8 582.2 1719.3 577.1 1721.2 575.0C1723.2 572.9 1726.6 569.8 1728.8 568.8C1730.9 567.7 1734.1 567.1 1736.2 567.5C1738.4 567.9 1741.8 570.2 1743.8 571.2C1745.7 572.3 1748.1 574.3 1750.0 575.0C1751.9 575.7 1755.4 576.2 1757.5 576.2C1759.6 576.2 1763.1 574.5 1765.0 575.0C1766.9 575.5 1769.3 578.8 1771.2 580.0C1773.2 581.2 1776.6 583.4 1778.8 583.8C1780.9 584.1 1784.1 583.6 1786.2 582.5C1788.4 581.4 1791.6 577.8 1793.8 576.2C1795.9 574.7 1799.1 570.9 1801.2 571.2C1803.4 571.6 1806.8 578.2 1808.8 578.8C1810.7 579.3 1813.1 576.2 1815.0 575.0C1816.9 573.8 1820.4 571.2 1822.5 570.0C1824.6 568.8 1827.9 566.1 1830.0 566.2C1832.1 566.4 1835.0 570.2 1837.5 571.2C1840.0 572.3 1845.0 573.3 1847.5 573.8C1850.0 574.2 1852.9 574.0 1855.0 574.5C1857.1 575.0 1860.6 576.2 1862.5 577.5C1864.4 578.8 1867.0 583.9 1868.8 583.8C1870.5 583.6 1873.2 578.2 1875.0 576.2C1876.8 574.3 1879.3 570.9 1881.2 570.0C1883.2 569.1 1886.6 569.3 1888.8 570.0C1890.9 570.7 1893.9 574.1 1896.2 575.0C1898.6 575.9 1902.7 576.2 1905.0 576.2C1907.3 576.2 1910.4 574.8 1912.5 575.0C1914.6 575.2 1917.9 577.4 1920.0 577.5C1922.1 577.6 1925.6 575.9 1927.5 575.5C1929.4 575.1 1932.9 575.1 1933.8 575.0" fill="none" stroke="#33b34a" stroke-width="4.3" stroke-linejoin="round" stroke-linecap="butt"/>
<line x1="1220.5" y1="566.2" x2="1944.0" y2="566.2" stroke="#000" stroke-width="4.5" stroke-dasharray="4.4 5.505"/>
<line x1="1578.4" y1="66.8" x2="1578.4" y2="648.9" stroke="#000" stroke-width="4.9" stroke-dasharray="39.2 15.25"/>
<rect x="1575.9" y="50.6" width="5" height="1.3" fill="#a8a8a8"/>
<path d="M1218.8 68.5V648.9H1941.3" fill="none" stroke="#333333" stroke-width="2.3" stroke-linejoin="miter"/>
<path d="M1218.8 648.9H1207.8M1218.8 607.5H1213.2M1218.8 566.1H1207.8M1218.8 524.8H1213.2M1218.8 483.4H1207.8M1218.8 442.0H1213.2M1218.8 400.6H1207.8M1218.8 359.2H1213.2M1218.8 317.9H1207.8M1218.8 276.5H1213.2M1218.8 235.1H1207.8M1218.8 193.7H1213.2M1218.8 152.4H1207.8M1218.8 111.0H1213.2M1218.8 69.6H1207.8M1218.8 648.9V659.8M1290.9 648.9V654.7M1363.0 648.9V659.8M1435.2 648.9V654.7M1507.3 648.9V659.8M1579.5 648.9V654.7M1651.6 648.9V659.8M1723.8 648.9V654.7M1795.9 648.9V659.8M1868.1 648.9V654.7M1940.2 648.9V659.8" fill="none" stroke="#333333" stroke-width="2.0"/>
<g font-family="Liberation Sans, Arial, sans-serif" font-size="35.4" fill="#111">
<text transform="translate(1199.8 657.5) scale(0.9611 1)" font-size="36.83" text-anchor="end">-0.01</text>
<text transform="translate(1199.8 574.7) scale(0.9611 1)" font-size="36.83" text-anchor="end">0.00</text>
<text transform="translate(1199.8 492.0) scale(0.9611 1)" font-size="36.83" text-anchor="end">0.01</text>
<text transform="translate(1199.8 409.2) scale(0.9611 1)" font-size="36.83" text-anchor="end">0.02</text>
<text transform="translate(1199.8 326.5) scale(0.9611 1)" font-size="36.83" text-anchor="end">0.03</text>
<text transform="translate(1199.8 243.7) scale(0.9611 1)" font-size="36.83" text-anchor="end">0.04</text>
<text transform="translate(1199.8 161.0) scale(0.9611 1)" font-size="36.83" text-anchor="end">0.05</text>
<text transform="translate(1199.8 78.2) scale(0.9611 1)" font-size="36.83" text-anchor="end">0.06</text>
<text transform="translate(1219.2 694.6) scale(0.9611 1)" font-size="36.83" text-anchor="middle">0</text>
<text transform="translate(1363.5 694.6) scale(0.9611 1)" font-size="36.83" text-anchor="middle">2</text>
<text transform="translate(1507.8 694.6) scale(0.9611 1)" font-size="36.83" text-anchor="middle">4</text>
<text transform="translate(1652.1 694.6) scale(0.9611 1)" font-size="36.83" text-anchor="middle">6</text>
<text transform="translate(1796.4 694.6) scale(0.9611 1)" font-size="36.83" text-anchor="middle">8</text>
<text transform="translate(1940.2 694.6) scale(0.9611 1)" font-size="36.83" text-anchor="middle">10</text>
<text transform="translate(1738.4 27.0) scale(0.9611 1)" font-size="36.83" text-anchor="start">Bare&#160; AA 7075-T651</text>
<text transform="translate(1738.4 70.8) scale(0.9611 1)" font-size="36.83" text-anchor="start">MgRP</text>
<text transform="translate(1738.4 114.2) scale(0.9611 1)" font-size="36.83" text-anchor="start">AlRP</text>
<text transform="translate(1738.4 157.6) scale(0.9611 1)" font-size="36.83" text-anchor="start">MgAlRP</text>
</g>
<line x1="1650.8" y1="15.0" x2="1730.5" y2="15.0" stroke="#000000" stroke-width="4.4" stroke-linecap="round"/>
<line x1="1650.8" y1="59.5" x2="1730.5" y2="59.5" stroke="#ff0000" stroke-width="4.4" stroke-linecap="round"/>
<line x1="1650.8" y1="102.5" x2="1730.5" y2="102.5" stroke="#0572ec" stroke-width="4.4" stroke-linecap="round"/>
<line x1="1650.8" y1="147.0" x2="1730.5" y2="147.0" stroke="#33b34a" stroke-width="4.4" stroke-linecap="round"/>
<text font-family="Liberation Sans, Arial, sans-serif" font-size="43.0" fill="#111" x="1580.0" y="758.6" text-anchor="middle">Distance (mm)</text>
<text font-family="Liberation Sans, Arial, sans-serif" font-size="43.0" fill="#111" text-anchor="middle" transform="translate(1102.0 357.6) rotate(-90)">jz (A/m<tspan font-size="29" dy="-15.6">2</tspan><tspan dy="15.6">)</tspan></text>
<text font-family="Liberation Serif, Times New Roman, serif" font-size="42" fill="#111" x="1064.8" y="101.3">b)</text>
</g>
<g>
<path d="M225.5 1346.2C226.5 1347.1 230.4 1350.9 232.5 1352.5C234.6 1354.1 237.9 1355.7 240.0 1357.5C242.1 1359.3 245.4 1363.2 247.5 1365.0C249.6 1366.8 253.1 1369.4 255.0 1370.0C256.9 1370.6 259.5 1370.2 261.2 1369.5C263.0 1368.8 265.4 1365.7 267.5 1365.0C269.6 1364.3 273.9 1365.0 276.2 1364.5C278.6 1364.0 281.4 1361.7 283.8 1361.2C286.1 1360.8 290.4 1361.1 292.5 1361.2C294.6 1361.4 297.0 1361.4 298.8 1362.5C300.5 1363.6 303.4 1366.8 305.0 1368.8C306.6 1370.7 308.4 1375.0 310.0 1376.2C311.6 1377.5 314.3 1377.9 316.2 1377.5C318.2 1377.1 321.4 1374.6 323.8 1373.8C326.1 1372.9 330.2 1372.5 332.5 1371.2C334.8 1370.0 337.9 1366.6 340.0 1365.0C342.1 1363.4 345.4 1361.8 347.5 1360.0C349.6 1358.2 352.9 1354.8 355.0 1352.5C357.1 1350.2 360.4 1344.5 362.5 1343.8C364.6 1343.0 367.9 1347.1 370.0 1347.5C372.1 1347.9 375.4 1346.4 377.5 1346.2C379.6 1346.1 382.9 1347.5 385.0 1346.2C387.1 1345.0 390.2 1337.9 392.5 1337.5C394.8 1337.1 399.1 1343.6 401.2 1343.8C403.4 1343.9 405.7 1340.2 407.5 1338.8C409.3 1337.3 411.8 1333.8 413.8 1333.8C415.7 1333.8 419.1 1338.2 421.2 1338.8C423.4 1339.3 426.8 1336.8 428.8 1337.5C430.7 1338.2 433.1 1341.8 435.0 1343.8C436.9 1345.7 440.2 1349.7 442.5 1351.2C444.8 1352.8 448.8 1354.3 451.2 1355.0C453.7 1355.7 457.7 1356.2 460.0 1356.2C462.3 1356.2 465.4 1356.2 467.5 1355.0C469.6 1353.8 472.9 1349.3 475.0 1347.5C477.1 1345.7 480.2 1343.0 482.5 1342.5C484.8 1342.0 488.9 1343.0 491.2 1343.8C493.6 1344.5 496.6 1346.3 498.8 1347.5C500.9 1348.7 504.1 1350.7 506.2 1352.5C508.4 1354.3 511.6 1357.9 513.8 1360.0C515.9 1362.1 519.3 1367.5 521.2 1367.5C523.2 1367.5 525.7 1361.6 527.5 1360.0C529.3 1358.4 532.0 1355.9 533.8 1356.2C535.5 1356.6 538.1 1360.7 540.0 1362.5C541.9 1364.3 545.4 1367.2 547.5 1368.8C549.6 1370.3 552.9 1372.5 555.0 1373.8C557.1 1375.0 560.4 1376.8 562.5 1377.5C564.6 1378.2 567.9 1379.1 570.0 1378.8C572.1 1378.4 575.6 1376.8 577.5 1375.0C579.4 1373.2 581.8 1368.2 583.8 1366.2C585.7 1364.3 589.3 1362.8 591.2 1361.2C593.2 1359.7 595.7 1357.5 597.5 1355.0C599.3 1352.5 602.2 1348.0 603.8 1343.8C605.3 1339.5 607.5 1331.2 608.8 1325.0C610.0 1318.8 611.3 1312.0 612.5 1300.0C613.7 1288.0 615.3 1269.8 617.4 1240.2C619.5 1210.6 625.3 1123.0 627.4 1091.2C629.6 1059.4 631.3 1031.7 632.5 1015.6C633.8 999.5 635.2 985.8 636.3 977.8C637.4 969.8 638.9 958.9 640.1 958.9C641.3 958.9 643.6 969.8 644.8 977.8C646.0 985.8 647.3 999.5 648.6 1015.6C649.9 1031.7 651.9 1059.4 653.9 1091.2C655.9 1123.0 660.8 1210.6 662.8 1240.2C664.8 1269.8 666.6 1287.3 668.0 1300.0C669.4 1312.7 671.2 1322.2 672.5 1330.0C673.8 1337.8 676.3 1350.0 677.5 1355.0C678.7 1360.0 679.8 1362.9 681.2 1365.0C682.7 1367.1 685.7 1369.0 687.5 1369.5C689.3 1370.0 692.0 1370.1 693.8 1368.8C695.5 1367.4 698.2 1363.4 700.0 1360.0C701.8 1356.6 704.5 1350.0 706.2 1345.0C708.0 1340.0 710.7 1330.3 712.5 1325.0C714.3 1319.7 717.2 1310.8 718.8 1307.5C720.3 1304.2 722.7 1302.8 723.8 1302.0C724.8 1301.2 724.7 1301.0 726.2 1302.0C727.8 1303.0 732.7 1309.0 735.0 1308.8C737.3 1308.5 740.4 1301.9 742.5 1300.0C744.6 1298.1 747.9 1296.8 750.0 1295.0C752.1 1293.2 755.6 1289.6 757.5 1287.5C759.4 1285.4 762.2 1281.4 763.8 1280.0C765.3 1278.6 767.2 1277.3 768.8 1277.5C770.3 1277.7 773.4 1279.1 775.0 1281.2C776.6 1283.4 778.4 1288.1 780.0 1292.5C781.6 1296.9 784.7 1307.7 786.2 1312.5C787.8 1317.3 789.8 1323.3 791.2 1326.2C792.7 1329.2 794.7 1332.4 796.2 1333.2C797.8 1334.1 800.6 1333.1 802.5 1332.5C804.4 1331.9 807.9 1330.2 810.0 1328.8C812.1 1327.3 815.6 1324.3 817.5 1322.5C819.4 1320.7 822.0 1317.6 823.8 1316.2C825.5 1314.9 828.2 1312.5 830.0 1313.0C831.8 1313.5 834.3 1318.7 836.2 1320.0C838.2 1321.3 841.4 1321.2 843.8 1322.5C846.1 1323.8 850.6 1329.3 852.5 1329.5C854.4 1329.7 856.2 1324.9 857.5 1323.8C858.8 1322.6 860.6 1320.5 862.0 1321.2C863.4 1322.0 866.0 1325.7 867.5 1328.8C869.0 1331.8 871.3 1338.4 872.5 1342.5C873.7 1346.6 875.2 1352.9 876.2 1357.5C877.3 1362.1 878.9 1370.4 880.0 1375.0C881.1 1379.6 882.7 1386.6 883.8 1390.0C884.8 1393.4 886.3 1397.0 887.5 1398.8C888.7 1400.5 890.9 1401.6 892.5 1402.0C894.1 1402.4 897.2 1401.8 898.8 1401.2C900.3 1400.7 902.2 1398.0 903.8 1398.0C905.3 1398.0 907.9 1399.9 910.0 1401.2C912.1 1402.6 917.5 1406.6 918.8 1407.5" fill="none" stroke="#000000" stroke-width="4.3" stroke-linejoin="round" stroke-linecap="butt"/>
<path d="M225.5 1402.5C226.8 1402.6 232.6 1403.0 235.0 1403.0C237.4 1403.0 240.6 1402.7 242.5 1402.5C244.4 1402.3 246.8 1400.7 248.8 1401.2C250.7 1401.8 254.1 1404.7 256.2 1406.2C258.4 1407.8 261.3 1411.5 263.8 1412.5C266.2 1413.5 271.3 1413.7 273.8 1413.0C276.2 1412.3 279.1 1409.7 281.2 1407.5C283.4 1405.3 286.6 1399.8 288.8 1397.5C290.9 1395.2 294.1 1392.3 296.2 1391.2C298.4 1390.2 301.6 1390.0 303.8 1390.0C305.9 1390.0 309.1 1390.2 311.2 1391.2C313.4 1392.3 316.6 1396.3 318.8 1397.5C320.9 1398.7 324.1 1399.1 326.2 1400.0C328.4 1400.9 331.8 1402.3 333.8 1403.8C335.7 1405.2 338.2 1408.8 340.0 1410.0C341.8 1411.2 344.3 1412.7 346.2 1412.5C348.2 1412.3 351.4 1409.6 353.8 1408.8C356.1 1407.9 360.0 1406.8 362.5 1406.2C365.0 1405.7 368.8 1405.4 371.2 1405.0C373.7 1404.6 377.5 1404.1 380.0 1403.8C382.5 1403.4 386.4 1403.2 388.8 1402.5C391.1 1401.8 394.3 1398.9 396.2 1398.8C398.2 1398.6 400.9 1400.8 402.5 1401.2C404.1 1401.7 405.9 1402.9 407.5 1402.0C409.1 1401.1 412.0 1396.7 413.8 1395.0C415.5 1393.3 418.1 1390.7 420.0 1390.0C421.9 1389.3 425.7 1389.5 427.5 1390.0C429.3 1390.5 431.1 1391.8 432.5 1393.8C433.9 1395.7 435.9 1401.8 437.5 1403.8C439.1 1405.7 442.2 1408.0 443.8 1407.5C445.3 1407.0 447.3 1401.8 448.8 1400.0C450.2 1398.2 452.2 1395.7 453.8 1395.0C455.3 1394.3 458.4 1393.9 460.0 1395.0C461.6 1396.1 463.4 1400.2 465.0 1402.5C466.6 1404.8 469.5 1410.7 471.2 1411.2C473.0 1411.8 475.7 1408.6 477.5 1406.2C479.3 1403.9 482.2 1398.4 483.8 1395.0C485.3 1391.6 487.2 1385.2 488.8 1382.5C490.3 1379.8 493.4 1377.7 495.0 1376.2C496.6 1374.8 498.6 1375.2 500.0 1372.5C501.4 1369.8 503.6 1362.1 505.0 1357.5C506.4 1352.9 508.6 1344.6 510.0 1340.0C511.4 1335.4 513.6 1329.2 515.0 1325.0C516.4 1320.8 518.4 1314.1 520.0 1310.0C521.6 1305.9 524.5 1298.9 526.2 1296.2C528.0 1293.6 530.9 1291.2 532.5 1291.2C534.1 1291.2 535.9 1293.6 537.5 1296.2C539.1 1298.9 541.6 1306.6 543.8 1310.0C545.9 1313.4 550.4 1316.8 552.5 1320.0C554.6 1323.2 557.0 1329.0 558.8 1332.5C560.5 1336.0 563.1 1341.8 565.0 1345.0C566.9 1348.2 570.7 1351.8 572.5 1355.0C574.3 1358.2 576.1 1364.0 577.5 1367.5C578.9 1371.0 580.9 1377.7 582.5 1380.0C584.1 1382.3 586.8 1383.6 588.8 1383.8C590.7 1383.9 594.7 1382.0 596.2 1381.2C597.8 1380.5 598.4 1378.4 600.0 1378.8C601.6 1379.1 605.4 1382.9 607.5 1383.8C609.6 1384.6 613.1 1384.3 615.0 1385.0C616.9 1385.7 619.5 1387.9 621.2 1388.8C623.0 1389.6 625.6 1391.2 627.5 1391.2C629.4 1391.2 632.9 1389.8 635.0 1388.8C637.1 1387.7 640.0 1384.6 642.5 1383.8C645.0 1382.9 650.0 1382.0 652.5 1382.5C655.0 1383.0 657.9 1386.6 660.0 1387.5C662.1 1388.4 665.4 1388.8 667.5 1388.8C669.6 1388.8 672.9 1388.2 675.0 1387.5C677.1 1386.8 680.4 1384.5 682.5 1383.8C684.6 1383.0 687.9 1382.5 690.0 1382.5C692.1 1382.5 695.4 1382.7 697.5 1383.8C699.6 1384.8 702.9 1388.5 705.0 1390.0C707.1 1391.5 710.4 1394.0 712.5 1394.5C714.6 1395.0 718.1 1394.4 720.0 1393.8C721.9 1393.1 724.5 1390.7 726.2 1390.0C728.0 1389.3 730.6 1388.4 732.5 1388.8C734.4 1389.1 737.9 1392.3 740.0 1392.5C742.1 1392.7 745.9 1390.9 747.5 1390.0C749.1 1389.1 749.8 1386.2 751.2 1386.2C752.7 1386.2 755.2 1389.4 757.5 1390.0C759.8 1390.6 765.0 1389.6 767.5 1390.5C770.0 1391.4 772.9 1395.0 775.0 1396.2C777.1 1397.5 780.4 1399.9 782.5 1399.5C784.6 1399.1 788.2 1394.7 790.0 1393.8C791.8 1392.8 793.6 1392.1 795.0 1393.0C796.4 1393.9 798.6 1397.6 800.0 1400.0C801.4 1402.4 803.6 1407.8 805.0 1410.0C806.4 1412.2 808.4 1415.0 810.0 1415.5C811.6 1416.0 814.5 1412.8 816.2 1413.8C818.0 1414.7 820.6 1420.9 822.5 1422.5C824.4 1424.1 827.9 1424.1 830.0 1425.0C832.1 1425.9 835.2 1427.7 837.5 1428.8C839.8 1429.8 843.9 1431.8 846.2 1432.5C848.6 1433.2 852.0 1433.4 853.8 1433.8C855.5 1434.1 857.2 1436.4 858.8 1435.0C860.3 1433.6 863.4 1425.4 865.0 1423.8C866.6 1422.1 868.8 1422.9 870.0 1423.2C871.2 1423.6 872.0 1426.5 873.8 1426.2C875.5 1426.0 880.2 1422.1 882.5 1421.2C884.8 1420.4 887.5 1420.2 890.0 1420.0C892.5 1419.8 897.9 1419.8 900.0 1420.0C902.1 1420.2 903.2 1421.2 905.0 1421.2C906.8 1421.2 910.6 1421.2 912.5 1420.0C914.4 1418.8 917.9 1413.6 918.8 1412.5" fill="none" stroke="#ff0000" stroke-width="4.3" stroke-linejoin="round" stroke-linecap="butt"/>
<path d="M225.5 1240.0C226.1 1242.8 228.7 1254.3 230.0 1260.0C231.3 1265.7 233.4 1274.3 235.0 1280.0C236.6 1285.7 239.7 1294.0 241.2 1300.0C242.8 1306.0 245.0 1316.5 246.2 1322.5C247.5 1328.5 248.8 1336.8 250.0 1342.5C251.2 1348.2 253.6 1357.2 255.0 1362.5C256.4 1367.8 258.6 1376.1 260.0 1380.0C261.4 1383.9 263.4 1387.9 265.0 1390.0C266.6 1392.1 269.5 1394.1 271.2 1394.5C273.0 1394.9 275.7 1394.2 277.5 1392.5C279.3 1390.8 282.0 1385.9 283.8 1382.5C285.5 1379.1 288.2 1372.3 290.0 1368.8C291.8 1365.2 294.3 1360.2 296.2 1357.5C298.2 1354.8 301.8 1352.5 303.8 1350.0C305.7 1347.5 308.1 1343.5 310.0 1340.0C311.9 1336.5 315.6 1329.2 317.5 1325.0C319.4 1320.8 322.0 1314.6 323.8 1310.0C325.5 1305.4 328.2 1297.8 330.0 1292.5C331.8 1287.2 334.5 1278.9 336.2 1272.5C338.0 1266.1 340.7 1254.9 342.5 1247.5C344.3 1240.1 347.3 1226.7 348.8 1220.0C350.2 1213.3 351.4 1208.0 352.9 1200.2C354.3 1192.3 357.5 1173.7 358.9 1164.7C360.3 1155.6 361.7 1143.0 363.1 1136.3C364.4 1129.6 366.7 1121.7 368.4 1117.4C370.0 1113.1 373.5 1110.1 375.0 1106.0C376.4 1102.0 377.5 1096.8 378.8 1089.0C380.0 1081.3 382.5 1061.9 383.9 1051.2C385.2 1040.5 386.9 1024.1 388.2 1013.4C389.5 1002.7 391.7 985.0 392.9 975.6C394.1 966.2 395.8 953.7 396.7 947.3C397.6 940.8 398.6 934.0 399.5 930.2C400.5 926.5 402.1 920.8 403.3 920.8C404.5 920.8 407.0 926.5 408.1 930.2C409.1 934.0 410.0 940.8 410.9 947.3C411.8 953.7 413.6 966.2 414.7 975.6C415.7 985.0 417.4 1002.7 418.4 1013.4C419.5 1024.1 421.2 1040.5 422.2 1051.2C423.3 1061.9 425.1 1078.3 426.0 1089.0C426.9 1099.7 428.0 1116.1 428.8 1126.8C429.7 1137.6 431.0 1154.3 431.7 1164.7C432.4 1175.0 433.3 1191.6 434.0 1200.2C434.6 1208.7 435.6 1216.5 436.2 1225.0C436.9 1233.5 437.9 1249.4 438.8 1260.0C439.6 1270.6 441.4 1289.0 442.5 1300.0C443.6 1311.0 445.2 1327.6 446.2 1337.5C447.3 1347.4 448.9 1361.9 450.0 1370.0C451.1 1378.1 452.7 1389.0 453.8 1395.0C454.8 1401.0 456.3 1409.0 457.5 1412.5C458.7 1416.0 460.7 1418.9 462.5 1420.0C464.3 1421.1 468.2 1421.1 470.0 1420.0C471.8 1418.9 473.4 1415.7 475.0 1412.5C476.6 1409.3 479.5 1402.1 481.2 1397.5C483.0 1392.9 485.7 1385.3 487.5 1380.0C489.3 1374.7 492.0 1366.0 493.8 1360.0C495.5 1354.0 498.4 1344.2 500.0 1337.5C501.6 1330.8 503.6 1320.6 505.0 1312.5C506.4 1304.4 508.6 1289.6 510.0 1280.0C511.4 1270.4 513.6 1255.3 515.0 1245.0C516.4 1234.7 518.6 1217.4 520.0 1207.5C521.4 1197.6 523.8 1182.3 525.0 1175.0C526.2 1167.7 527.7 1159.5 528.8 1156.2C529.8 1153.0 531.3 1151.8 532.5 1152.0C533.7 1152.2 536.3 1154.6 537.5 1157.5C538.7 1160.4 540.0 1167.2 541.2 1172.5C542.5 1177.8 544.8 1188.3 546.2 1195.0C547.7 1201.7 549.8 1212.9 551.2 1220.0C552.7 1227.1 554.7 1237.9 556.2 1245.0C557.8 1252.1 560.6 1263.6 562.5 1270.0C564.4 1276.4 567.9 1285.2 570.0 1290.0C572.1 1294.8 575.4 1300.7 577.5 1303.8C579.6 1306.8 582.9 1309.7 585.0 1311.2C587.1 1312.8 590.4 1314.3 592.5 1315.0C594.6 1315.7 598.1 1316.6 600.0 1316.2C601.9 1315.9 604.5 1312.0 606.2 1312.5C608.0 1313.0 610.6 1317.2 612.5 1320.0C614.4 1322.8 618.1 1329.0 620.0 1332.5C621.9 1336.0 624.5 1342.0 626.2 1345.0C628.0 1348.0 630.7 1352.2 632.5 1353.8C634.3 1355.3 636.8 1356.4 638.8 1356.2C640.7 1356.1 644.3 1354.6 646.2 1352.5C648.2 1350.4 650.7 1344.1 652.5 1341.2C654.3 1338.4 656.8 1334.0 658.8 1332.5C660.7 1331.0 664.3 1330.7 666.2 1330.5C668.2 1330.3 670.7 1329.7 672.5 1331.2C674.3 1332.8 677.0 1338.9 678.8 1341.2C680.5 1343.6 682.5 1346.6 685.0 1347.5C687.5 1348.4 693.6 1346.4 696.2 1347.5C698.9 1348.6 701.8 1353.1 703.8 1355.0C705.7 1356.9 707.7 1360.3 710.0 1361.2C712.3 1362.2 716.8 1361.5 720.0 1362.0C723.2 1362.5 729.1 1363.7 732.5 1364.5C735.9 1365.3 741.1 1368.1 743.8 1368.0C746.4 1367.9 749.1 1364.6 751.2 1363.8C753.4 1362.9 756.4 1363.0 758.8 1362.0C761.1 1361.0 765.2 1357.3 767.5 1357.0C769.8 1356.7 772.9 1359.2 775.0 1360.0C777.1 1360.8 780.4 1362.3 782.5 1362.5C784.6 1362.7 787.5 1361.5 790.0 1361.2C792.5 1361.0 797.5 1360.0 800.0 1360.5C802.5 1361.0 805.4 1363.7 807.5 1365.0C809.6 1366.3 812.9 1370.0 815.0 1369.5C817.1 1369.0 820.4 1363.7 822.5 1361.2C824.6 1358.8 827.9 1354.4 830.0 1352.5C832.1 1350.6 835.4 1348.9 837.5 1347.5C839.6 1346.1 843.1 1344.3 845.0 1342.5C846.9 1340.7 849.3 1336.2 851.2 1335.0C853.2 1333.8 856.8 1332.9 858.8 1333.8C860.7 1334.6 863.4 1338.6 865.0 1341.2C866.6 1343.9 868.6 1348.8 870.0 1352.5C871.4 1356.2 873.6 1363.6 875.0 1367.5C876.4 1371.4 878.6 1378.3 880.0 1380.0C881.4 1381.7 883.1 1380.4 885.0 1379.5C886.9 1378.6 891.6 1374.0 893.8 1373.8C895.9 1373.5 898.4 1376.4 900.0 1377.5C901.6 1378.6 904.3 1380.7 905.0 1381.2" fill="none" stroke="#0572ec" stroke-width="4.3" stroke-linejoin="round" stroke-linecap="butt"/>
<path d="M225.5 1372.5C226.5 1372.0 230.4 1370.3 232.5 1368.8C234.6 1367.2 237.9 1363.9 240.0 1361.2C242.1 1358.6 245.6 1353.4 247.5 1350.0C249.4 1346.6 252.0 1341.2 253.8 1337.5C255.5 1333.8 258.1 1327.5 260.0 1323.8C261.9 1320.0 265.4 1315.0 267.5 1311.2C269.6 1307.5 272.9 1301.9 275.0 1297.5C277.1 1293.1 280.4 1285.0 282.5 1280.0C284.6 1275.0 287.9 1266.8 290.0 1262.5C292.1 1258.2 295.9 1250.6 297.5 1249.5C299.1 1248.4 300.2 1251.4 301.2 1255.0C302.3 1258.6 303.9 1269.3 305.0 1275.0C306.1 1280.7 307.7 1289.7 308.8 1295.0C309.8 1300.3 311.3 1308.2 312.5 1312.5C313.7 1316.8 316.1 1321.1 317.5 1325.0C318.9 1328.9 321.1 1335.8 322.5 1340.0C323.9 1344.2 326.1 1350.8 327.5 1355.0C328.9 1359.2 331.1 1367.0 332.5 1370.0C333.9 1373.0 335.7 1375.5 337.5 1376.2C339.3 1377.0 342.9 1375.4 345.0 1375.0C347.1 1374.6 350.6 1373.2 352.5 1373.8C354.4 1374.3 356.8 1377.2 358.8 1378.8C360.7 1380.3 364.1 1384.3 366.2 1385.0C368.4 1385.7 371.6 1384.6 373.8 1383.8C375.9 1382.9 379.3 1378.9 381.2 1378.8C383.2 1378.6 385.9 1380.6 387.5 1382.5C389.1 1384.4 390.7 1390.4 392.5 1392.5C394.3 1394.6 397.5 1396.9 400.0 1397.5C402.5 1398.1 407.5 1396.6 410.0 1397.0C412.5 1397.4 415.2 1399.2 417.5 1400.0C419.8 1400.8 424.3 1402.9 426.2 1402.5C428.2 1402.1 429.8 1399.3 431.2 1397.5C432.7 1395.7 434.7 1390.5 436.2 1390.0C437.8 1389.5 440.6 1393.0 442.5 1393.8C444.4 1394.5 447.9 1395.4 450.0 1395.0C452.1 1394.6 455.4 1391.2 457.5 1391.2C459.6 1391.2 462.9 1394.8 465.0 1395.0C467.1 1395.2 470.4 1393.0 472.5 1392.5C474.6 1392.0 477.9 1391.8 480.0 1391.2C482.1 1390.7 485.4 1387.9 487.5 1388.8C489.6 1389.6 492.7 1396.1 495.0 1397.5C497.3 1398.9 501.4 1398.2 503.8 1398.8C506.1 1399.3 509.1 1400.4 511.2 1401.2C513.4 1402.1 516.6 1405.2 518.8 1405.0C520.9 1404.8 524.1 1401.4 526.2 1400.0C528.4 1398.6 531.6 1395.2 533.8 1395.0C535.9 1394.8 539.1 1398.6 541.2 1398.8C543.4 1398.9 546.6 1397.3 548.8 1396.2C550.9 1395.2 554.3 1393.4 556.2 1391.2C558.2 1389.1 560.6 1383.0 562.5 1381.2C564.4 1379.5 567.9 1378.6 570.0 1378.8C572.1 1378.9 575.4 1381.6 577.5 1382.5C579.6 1383.4 582.9 1384.6 585.0 1385.0C587.1 1385.4 590.4 1385.4 592.5 1385.0C594.6 1384.6 597.9 1383.0 600.0 1382.5C602.1 1382.0 605.6 1380.5 607.5 1381.2C609.4 1382.0 612.0 1386.1 613.8 1387.5C615.5 1388.9 618.2 1390.2 620.0 1391.2C621.8 1392.3 624.5 1395.2 626.2 1395.0C628.0 1394.8 630.7 1392.1 632.5 1390.0C634.3 1387.9 637.0 1381.9 638.8 1380.0C640.5 1378.1 643.4 1377.4 645.0 1376.2C646.6 1375.1 648.4 1371.6 650.0 1372.0C651.6 1372.4 654.5 1377.1 656.2 1378.8C658.0 1380.4 660.6 1382.9 662.5 1383.8C664.4 1384.6 667.9 1385.2 670.0 1385.0C672.1 1384.8 675.2 1383.6 677.5 1382.5C679.8 1381.4 683.8 1378.3 686.2 1377.5C688.7 1376.7 692.2 1377.1 695.0 1377.0C697.8 1376.9 703.4 1377.4 706.2 1377.0C709.1 1376.6 712.7 1374.8 715.0 1374.5C717.3 1374.2 720.4 1375.3 722.5 1375.0C724.6 1374.7 727.7 1373.8 730.0 1372.5C732.3 1371.2 736.4 1365.1 738.8 1365.5C741.1 1365.9 743.9 1373.8 746.2 1375.0C748.6 1376.2 752.7 1373.8 755.0 1373.8C757.3 1373.8 760.4 1374.3 762.5 1375.0C764.6 1375.7 767.9 1378.9 770.0 1378.8C772.1 1378.6 775.6 1375.1 777.5 1373.8C779.4 1372.4 781.8 1370.1 783.8 1369.5C785.7 1368.9 789.3 1368.4 791.2 1369.5C793.2 1370.6 795.9 1375.7 797.5 1377.5C799.1 1379.3 800.7 1382.9 802.5 1382.5C804.3 1382.1 807.9 1376.1 810.0 1375.0C812.1 1373.9 815.4 1374.5 817.5 1375.0C819.6 1375.5 822.9 1377.3 825.0 1378.8C827.1 1380.2 830.4 1383.5 832.5 1385.0C834.6 1386.5 837.9 1388.6 840.0 1389.5C842.1 1390.4 845.6 1391.5 847.5 1391.2C849.4 1391.0 852.0 1388.7 853.8 1387.5C855.5 1386.3 858.2 1382.5 860.0 1382.5C861.8 1382.5 864.3 1387.3 866.2 1387.5C868.2 1387.7 871.8 1385.5 873.8 1383.8C875.7 1382.0 878.1 1376.9 880.0 1375.0C881.9 1373.1 885.4 1371.2 887.5 1370.5C889.6 1369.8 892.5 1369.7 895.0 1370.0C897.5 1370.3 902.2 1371.8 905.0 1372.5C907.8 1373.2 912.5 1374.8 915.0 1375.0C917.5 1375.2 920.4 1374.4 922.5 1373.8C924.6 1373.1 928.1 1370.9 930.0 1370.5C931.9 1370.1 934.7 1370.6 936.2 1371.2C937.8 1371.9 940.5 1374.5 941.2 1375.0" fill="none" stroke="#33b34a" stroke-width="4.3" stroke-linejoin="round" stroke-linecap="butt"/>
<line x1="227.3" y1="1385.7" x2="953.0" y2="1385.7" stroke="#000" stroke-width="4.5" stroke-dasharray="4.4 5.505"/>
<line x1="585.4" y1="891.0" x2="585.4" y2="1468.2" stroke="#000" stroke-width="4.9" stroke-dasharray="39.2 15.25"/>
<rect x="582.9" y="874.8" width="5" height="1.3" fill="#a8a8a8"/>
<path d="M225.5 888.7V1468.2H947.7" fill="none" stroke="#333333" stroke-width="2.3" stroke-linejoin="miter"/>
<path d="M225.5 1468.2H214.6M225.5 1426.9H220.0M225.5 1385.6H214.6M225.5 1344.3H220.0M225.5 1302.9H214.6M225.5 1261.6H220.0M225.5 1220.3H214.6M225.5 1179.0H220.0M225.5 1137.7H214.6M225.5 1096.4H220.0M225.5 1055.1H214.6M225.5 1013.7H220.0M225.5 972.4H214.6M225.5 931.1H220.0M225.5 889.8H214.6M225.5 1468.2V1479.1M297.6 1468.2V1474.0M369.7 1468.2V1479.1M441.8 1468.2V1474.0M513.9 1468.2V1479.1M586.0 1468.2V1474.0M658.2 1468.2V1479.1M730.3 1468.2V1474.0M802.4 1468.2V1479.1M874.5 1468.2V1474.0M946.6 1468.2V1479.1" fill="none" stroke="#333333" stroke-width="2.0"/>
<g font-family="Liberation Sans, Arial, sans-serif" font-size="35.4" fill="#111">
<text transform="translate(205.5 1477.1) scale(0.9611 1)" font-size="36.83" text-anchor="end">-0.01</text>
<text transform="translate(205.5 1394.5) scale(0.9611 1)" font-size="36.83" text-anchor="end">0.00</text>
<text transform="translate(205.5 1311.8) scale(0.9611 1)" font-size="36.83" text-anchor="end">0.01</text>
<text transform="translate(205.5 1229.2) scale(0.9611 1)" font-size="36.83" text-anchor="end">0.02</text>
<text transform="translate(205.5 1146.6) scale(0.9611 1)" font-size="36.83" text-anchor="end">0.03</text>
<text transform="translate(205.5 1064.0) scale(0.9611 1)" font-size="36.83" text-anchor="end">0.04</text>
<text transform="translate(205.5 981.3) scale(0.9611 1)" font-size="36.83" text-anchor="end">0.05</text>
<text transform="translate(205.5 898.7) scale(0.9611 1)" font-size="36.83" text-anchor="end">0.06</text>
<text transform="translate(226.0 1513.9) scale(0.9611 1)" font-size="36.83" text-anchor="middle">0</text>
<text transform="translate(370.2 1513.9) scale(0.9611 1)" font-size="36.83" text-anchor="middle">2</text>
<text transform="translate(514.4 1513.9) scale(0.9611 1)" font-size="36.83" text-anchor="middle">4</text>
<text transform="translate(658.7 1513.9) scale(0.9611 1)" font-size="36.83" text-anchor="middle">6</text>
<text transform="translate(802.9 1513.9) scale(0.9611 1)" font-size="36.83" text-anchor="middle">8</text>
<text transform="translate(946.6 1513.9) scale(0.9611 1)" font-size="36.83" text-anchor="middle">10</text>
<text transform="translate(743.2 865.2) scale(0.9611 1)" font-size="36.83" text-anchor="start">Bare&#160; AA 7075-T651</text>
<text transform="translate(743.2 908.9) scale(0.9611 1)" font-size="36.83" text-anchor="start">MgRP</text>
<text transform="translate(743.2 952.3) scale(0.9611 1)" font-size="36.83" text-anchor="start">AlRP</text>
<text transform="translate(743.2 995.7) scale(0.9611 1)" font-size="36.83" text-anchor="start">MgAlRP</text>
</g>
<line x1="655.8" y1="853.5" x2="735.5" y2="853.5" stroke="#000000" stroke-width="4.4" stroke-linecap="round"/>
<line x1="655.8" y1="898.1" x2="735.5" y2="898.1" stroke="#ff0000" stroke-width="4.4" stroke-linecap="round"/>
<line x1="655.8" y1="941.4" x2="735.5" y2="941.4" stroke="#0572ec" stroke-width="4.4" stroke-linecap="round"/>
<line x1="655.8" y1="984.3" x2="735.5" y2="984.3" stroke="#33b34a" stroke-width="4.4" stroke-linecap="round"/>
<text font-family="Liberation Sans, Arial, sans-serif" font-size="43.0" fill="#111" x="586.5" y="1577.9" text-anchor="middle">Distance (mm)</text>
<text font-family="Liberation Sans, Arial, sans-serif" font-size="43.0" fill="#111" text-anchor="middle" transform="translate(107.6 1177.4) rotate(-90)">jz (A/m<tspan font-size="29" dy="-15.6">2</tspan><tspan dy="15.6">)</tspan></text>
<text font-family="Liberation Serif, Times New Roman, serif" font-size="42" fill="#111" x="-0.6" y="898.4">c)</text>
</g>
<g>
<path d="M1230.5 1347.5C1231.5 1348.4 1235.6 1352.3 1237.5 1353.8C1239.4 1355.2 1241.8 1357.7 1243.8 1357.5C1245.7 1357.3 1249.3 1349.9 1251.2 1352.0C1253.2 1354.1 1255.6 1371.7 1257.5 1372.5C1259.4 1373.3 1262.9 1358.9 1265.0 1357.5C1267.1 1356.1 1270.3 1362.7 1272.5 1362.5C1274.7 1362.3 1278.4 1354.8 1280.5 1356.2C1282.6 1357.7 1285.4 1370.9 1287.5 1372.5C1289.6 1374.1 1293.1 1366.3 1295.0 1367.5C1296.9 1368.7 1299.2 1378.1 1301.2 1381.2C1303.3 1384.4 1307.4 1390.5 1309.5 1390.0C1311.6 1389.5 1314.4 1379.1 1316.2 1377.5C1318.1 1375.9 1320.6 1378.6 1322.5 1378.8C1324.4 1378.9 1328.1 1380.7 1330.0 1378.8C1331.9 1376.8 1334.3 1368.5 1336.2 1365.0C1338.2 1361.5 1341.6 1355.9 1343.8 1353.8C1345.9 1351.6 1349.1 1349.8 1351.2 1350.0C1353.4 1350.2 1356.6 1355.1 1358.8 1355.5C1360.9 1355.9 1364.1 1353.8 1366.2 1352.5C1368.4 1351.2 1371.8 1345.7 1373.8 1346.2C1375.7 1346.8 1378.2 1355.4 1380.0 1356.2C1381.8 1357.1 1384.3 1351.6 1386.2 1352.5C1388.2 1353.4 1391.6 1361.8 1393.8 1362.5C1395.9 1363.2 1398.9 1358.4 1401.2 1357.5C1403.6 1356.6 1407.7 1357.0 1410.0 1356.2C1412.3 1355.5 1415.4 1352.9 1417.5 1352.0C1419.6 1351.1 1422.9 1349.8 1425.0 1350.0C1427.1 1350.2 1430.4 1354.1 1432.5 1353.8C1434.6 1353.4 1438.1 1347.0 1440.0 1347.5C1441.9 1348.0 1444.3 1356.4 1446.2 1357.5C1448.2 1358.6 1451.6 1355.4 1453.8 1355.0C1455.9 1354.6 1459.3 1353.9 1461.2 1355.0C1463.2 1356.1 1465.6 1362.0 1467.5 1362.5C1469.4 1363.0 1472.9 1358.6 1475.0 1358.8C1477.1 1358.9 1480.4 1362.5 1482.5 1363.8C1484.6 1365.0 1487.9 1367.4 1490.0 1367.5C1492.1 1367.6 1495.2 1365.3 1497.5 1364.5C1499.8 1363.7 1504.1 1362.8 1506.2 1362.0C1508.4 1361.2 1510.8 1360.6 1512.5 1358.8C1514.2 1356.9 1516.4 1348.6 1518.0 1348.8C1519.6 1348.9 1522.0 1357.7 1523.8 1360.0C1525.5 1362.3 1528.2 1363.8 1530.0 1365.0C1531.8 1366.2 1534.5 1368.0 1536.2 1368.8C1538.0 1369.5 1540.6 1371.4 1542.5 1370.0C1544.4 1368.6 1547.8 1361.1 1550.0 1358.8C1552.2 1356.4 1555.9 1353.4 1558.0 1353.8C1560.1 1354.1 1562.9 1359.8 1565.0 1361.2C1567.1 1362.7 1570.6 1362.5 1572.5 1363.8C1574.4 1365.0 1577.0 1369.1 1578.8 1370.0C1580.5 1370.9 1583.1 1370.0 1585.0 1370.0C1586.9 1370.0 1590.4 1370.5 1592.5 1370.0C1594.6 1369.5 1598.1 1367.8 1600.0 1366.2C1601.9 1364.7 1604.7 1362.5 1606.2 1358.8C1607.8 1355.0 1610.0 1346.2 1611.2 1340.0C1612.5 1333.8 1613.9 1326.3 1615.0 1315.0C1616.1 1303.7 1617.8 1278.3 1619.3 1260.2C1620.8 1242.0 1623.9 1207.9 1625.5 1186.8C1627.1 1165.7 1629.2 1132.7 1630.6 1111.2C1632.1 1089.8 1634.9 1050.3 1635.9 1035.6C1637.0 1020.9 1637.5 1014.5 1638.2 1007.3C1638.9 1000.0 1640.0 984.6 1641.0 984.6C1642.1 984.6 1644.6 1000.0 1645.8 1007.3C1647.0 1014.5 1648.2 1020.9 1649.5 1035.6C1650.9 1050.3 1653.7 1089.8 1655.2 1111.2C1656.7 1132.7 1658.7 1165.7 1659.9 1186.8C1661.2 1207.9 1663.2 1247.0 1664.1 1260.2C1665.0 1273.4 1665.6 1272.9 1666.2 1280.0C1666.9 1287.1 1667.9 1302.2 1668.8 1310.0C1669.6 1317.8 1671.4 1329.0 1672.5 1335.0C1673.6 1341.0 1675.2 1347.9 1676.2 1352.5C1677.3 1357.1 1678.9 1363.1 1680.0 1367.5C1681.1 1371.9 1682.3 1381.8 1683.8 1383.8C1685.2 1385.7 1688.6 1382.8 1690.0 1381.2C1691.4 1379.7 1692.5 1374.6 1693.8 1372.5C1695.0 1370.4 1697.3 1365.5 1698.8 1366.2C1700.2 1367.0 1702.3 1377.1 1703.8 1377.5C1705.2 1377.9 1707.2 1368.8 1708.8 1368.8C1710.3 1368.8 1713.4 1378.0 1715.0 1377.5C1716.6 1377.0 1718.6 1368.0 1720.0 1365.0C1721.4 1362.0 1723.0 1357.1 1725.0 1356.2C1727.0 1355.4 1731.9 1357.9 1734.2 1358.8C1736.6 1359.6 1739.8 1360.6 1741.8 1362.5C1743.7 1364.4 1746.4 1372.1 1748.0 1372.5C1749.6 1372.9 1751.6 1367.8 1753.0 1365.0C1754.4 1362.2 1756.6 1355.7 1758.0 1352.5C1759.4 1349.3 1761.4 1344.8 1763.0 1342.5C1764.6 1340.2 1767.5 1337.4 1769.2 1336.2C1771.0 1335.1 1773.6 1334.7 1775.5 1334.5C1777.4 1334.3 1780.7 1334.6 1783.0 1334.5C1785.3 1334.4 1789.6 1332.6 1791.8 1333.8C1793.9 1334.9 1796.4 1339.5 1798.0 1342.5C1799.6 1345.5 1801.6 1351.8 1803.0 1355.0C1804.4 1358.2 1806.6 1364.8 1808.0 1365.0C1809.4 1365.2 1811.6 1359.4 1813.0 1356.2C1814.4 1353.1 1816.8 1345.6 1818.0 1342.5C1819.2 1339.4 1820.3 1335.7 1821.8 1334.5C1823.2 1333.3 1826.2 1335.5 1828.0 1333.8C1829.8 1332.0 1832.5 1325.3 1834.2 1322.5C1836.0 1319.7 1838.9 1316.2 1840.5 1313.8C1842.1 1311.3 1844.3 1309.1 1845.5 1305.0C1846.7 1300.9 1848.0 1288.5 1849.2 1285.0C1850.5 1281.5 1852.8 1280.9 1854.2 1280.0C1855.7 1279.1 1857.7 1278.4 1859.2 1278.8C1860.8 1279.1 1863.9 1280.2 1865.5 1282.5C1867.1 1284.8 1869.1 1291.5 1870.5 1295.0C1871.9 1298.5 1874.3 1304.0 1875.5 1307.5C1876.7 1311.0 1878.2 1314.3 1879.2 1320.0C1880.3 1325.7 1881.9 1340.4 1883.0 1347.5C1884.1 1354.6 1885.5 1365.2 1886.8 1370.0C1888.0 1374.8 1890.0 1379.3 1891.8 1381.2C1893.5 1383.2 1897.1 1382.5 1899.2 1383.8C1901.4 1385.0 1904.6 1388.8 1906.8 1390.0C1908.9 1391.2 1911.9 1391.6 1914.2 1392.5C1916.6 1393.4 1921.8 1395.7 1923.0 1396.2" fill="none" stroke="#000000" stroke-width="4.3" stroke-linejoin="round" stroke-linecap="butt"/>
<path d="M1230.5 1360.0C1231.0 1356.5 1232.8 1342.1 1233.8 1335.0C1234.7 1327.9 1236.4 1317.1 1237.5 1310.0C1238.6 1302.9 1240.2 1292.1 1241.2 1285.0C1242.3 1277.9 1243.9 1267.4 1245.0 1260.0C1246.1 1252.6 1247.7 1240.3 1248.8 1232.5C1249.8 1224.7 1251.4 1213.1 1252.5 1205.0C1253.6 1196.9 1255.2 1183.1 1256.2 1175.0C1257.3 1166.9 1258.9 1154.6 1260.0 1147.5C1261.1 1140.4 1262.7 1129.2 1263.8 1125.0C1264.8 1120.8 1266.3 1119.1 1267.5 1118.0C1268.7 1116.9 1271.3 1116.3 1272.5 1117.5C1273.7 1118.7 1275.1 1122.4 1276.2 1126.2C1277.4 1130.1 1279.4 1138.8 1280.5 1145.0C1281.6 1151.2 1282.8 1162.2 1283.8 1170.0C1284.7 1177.8 1286.4 1191.5 1287.5 1200.0C1288.6 1208.5 1290.2 1221.5 1291.2 1230.0C1292.3 1238.5 1293.9 1251.5 1295.0 1260.0C1296.1 1268.5 1297.7 1281.9 1298.8 1290.0C1299.8 1298.1 1301.4 1310.4 1302.5 1317.5C1303.6 1324.6 1305.0 1334.0 1306.2 1340.0C1307.5 1346.0 1309.8 1355.0 1311.2 1360.0C1312.7 1365.0 1314.8 1370.4 1316.2 1375.0C1317.7 1379.6 1319.8 1389.0 1321.2 1392.5C1322.7 1396.0 1324.5 1398.4 1326.2 1400.0C1328.0 1401.6 1331.4 1403.2 1333.8 1403.8C1336.1 1404.3 1340.0 1403.9 1342.5 1403.8C1345.0 1403.6 1349.5 1402.5 1351.2 1403.0C1353.0 1403.5 1353.8 1405.6 1355.0 1407.5C1356.2 1409.4 1358.3 1416.6 1359.5 1416.2C1360.7 1415.9 1362.4 1407.5 1363.8 1405.0C1365.1 1402.5 1367.2 1400.2 1368.8 1398.8C1370.3 1397.3 1373.2 1396.2 1375.0 1395.0C1376.8 1393.8 1379.7 1391.8 1381.2 1390.0C1382.8 1388.2 1384.8 1386.0 1386.2 1382.5C1387.7 1379.0 1389.7 1369.2 1391.2 1365.0C1392.8 1360.8 1395.7 1356.0 1397.5 1352.5C1399.3 1349.0 1402.0 1343.5 1403.8 1340.0C1405.5 1336.5 1408.2 1330.0 1410.0 1327.5C1411.8 1325.0 1414.5 1323.0 1416.2 1322.5C1418.0 1322.0 1420.7 1322.7 1422.5 1323.8C1424.3 1324.8 1427.0 1327.3 1428.8 1330.0C1430.5 1332.7 1433.2 1339.0 1435.0 1342.5C1436.8 1346.0 1439.5 1351.5 1441.2 1355.0C1443.0 1358.5 1445.7 1364.7 1447.5 1367.5C1449.3 1370.3 1452.0 1373.8 1453.8 1375.0C1455.5 1376.2 1458.4 1373.8 1460.0 1376.2C1461.6 1378.7 1463.6 1388.8 1465.0 1392.5C1466.4 1396.2 1468.4 1400.6 1470.0 1402.5C1471.6 1404.4 1474.5 1405.0 1476.2 1406.2C1478.0 1407.5 1480.7 1411.4 1482.5 1411.2C1484.3 1411.1 1486.8 1406.6 1488.8 1405.0C1490.7 1403.4 1494.1 1400.9 1496.2 1400.0C1498.4 1399.1 1501.8 1398.8 1503.8 1398.8C1505.7 1398.7 1508.4 1401.4 1510.0 1399.5C1511.6 1397.6 1513.4 1387.9 1515.0 1385.0C1516.6 1382.1 1519.7 1380.2 1521.2 1378.8C1522.8 1377.3 1524.7 1376.6 1526.2 1375.0C1527.8 1373.4 1530.9 1371.0 1532.5 1367.5C1534.1 1364.0 1536.1 1354.2 1537.5 1350.0C1538.9 1345.8 1541.1 1341.0 1542.5 1337.5C1543.9 1334.0 1546.3 1329.6 1547.5 1325.0C1548.7 1320.4 1550.0 1309.4 1551.2 1305.0C1552.5 1300.6 1554.8 1295.8 1556.2 1293.8C1557.7 1291.7 1559.8 1290.0 1561.2 1290.5C1562.7 1291.0 1564.8 1294.0 1566.2 1297.5C1567.7 1301.0 1570.0 1309.7 1571.2 1315.0C1572.5 1320.3 1573.9 1329.3 1575.0 1335.0C1576.1 1340.7 1577.7 1349.7 1578.8 1355.0C1579.8 1360.3 1581.3 1368.2 1582.5 1372.5C1583.7 1376.8 1586.1 1381.1 1587.5 1385.0C1588.9 1388.9 1591.1 1395.8 1592.5 1400.0C1593.9 1404.2 1596.1 1411.6 1597.5 1415.0C1598.9 1418.4 1600.7 1421.8 1602.5 1423.8C1604.3 1425.7 1607.9 1427.3 1610.0 1428.8C1612.1 1430.2 1615.2 1432.0 1617.5 1433.8C1619.8 1435.5 1623.9 1440.7 1626.2 1441.2C1628.6 1441.8 1631.8 1438.7 1633.8 1437.5C1635.7 1436.3 1638.1 1433.2 1640.0 1432.5C1641.9 1431.8 1645.6 1434.3 1647.5 1432.5C1649.4 1430.7 1652.0 1422.7 1653.8 1420.0C1655.5 1417.3 1658.4 1414.6 1660.0 1413.8C1661.6 1412.9 1663.4 1411.6 1665.0 1413.8C1666.6 1415.9 1669.5 1425.2 1671.2 1428.8C1673.0 1432.3 1675.4 1437.3 1677.5 1438.8C1679.6 1440.2 1683.9 1439.5 1686.2 1438.8C1688.6 1438.0 1691.8 1435.0 1693.8 1433.8C1695.7 1432.5 1698.2 1429.1 1700.0 1430.0C1701.8 1430.9 1704.5 1440.0 1706.2 1440.0C1708.0 1440.0 1710.6 1432.8 1712.5 1430.0C1714.4 1427.2 1718.1 1421.6 1720.0 1420.0C1721.9 1418.4 1724.4 1416.6 1726.2 1418.8C1728.1 1420.9 1731.0 1432.7 1733.0 1435.0C1735.0 1437.3 1738.4 1437.7 1740.5 1435.0C1742.6 1432.3 1745.9 1418.4 1748.0 1416.2C1750.1 1414.1 1753.4 1418.7 1755.5 1419.5C1757.6 1420.3 1760.9 1422.1 1763.0 1422.0C1765.1 1421.9 1768.4 1418.7 1770.5 1418.8C1772.6 1418.8 1775.9 1422.9 1778.0 1422.5C1780.1 1422.1 1783.0 1417.0 1785.5 1416.2C1788.0 1415.5 1793.4 1418.4 1795.5 1417.5C1797.6 1416.6 1798.9 1411.4 1800.5 1410.0C1802.1 1408.6 1805.0 1407.0 1806.8 1407.5C1808.5 1408.0 1811.1 1412.2 1813.0 1413.8C1814.9 1415.3 1818.2 1416.6 1820.5 1418.8C1822.8 1420.9 1826.9 1428.0 1829.2 1428.8C1831.6 1429.5 1834.6 1424.8 1836.8 1423.8C1838.9 1422.7 1842.1 1421.5 1844.2 1421.2C1846.4 1421.0 1849.8 1422.4 1851.8 1422.0C1853.7 1421.6 1856.2 1418.0 1858.0 1418.8C1859.8 1419.5 1862.3 1425.7 1864.2 1427.5C1866.2 1429.3 1869.6 1431.2 1871.8 1431.2C1873.9 1431.2 1877.3 1429.4 1879.2 1427.5C1881.2 1425.6 1884.1 1419.3 1885.5 1417.5C1886.9 1415.7 1888.0 1414.5 1889.2 1415.0C1890.5 1415.5 1892.7 1420.7 1894.2 1421.2C1895.8 1421.8 1898.7 1420.0 1900.5 1418.8C1902.3 1417.5 1904.8 1413.7 1906.8 1412.5C1908.7 1411.3 1912.3 1409.6 1914.2 1410.0C1916.2 1410.4 1919.3 1413.8 1920.5 1415.0C1921.7 1416.2 1922.6 1418.2 1923.0 1418.8" fill="none" stroke="#ff0000" stroke-width="4.3" stroke-linejoin="round" stroke-linecap="butt"/>
<path d="M1230.5 1155.0C1230.9 1159.2 1232.3 1177.6 1233.0 1185.0C1233.7 1192.4 1234.8 1202.9 1235.5 1207.5C1236.2 1212.1 1237.2 1219.3 1238.0 1217.5C1238.8 1215.7 1240.3 1199.1 1241.2 1195.0C1242.2 1190.9 1243.7 1186.3 1244.5 1188.8C1245.3 1191.2 1246.3 1203.1 1247.0 1212.5C1247.7 1221.9 1248.8 1245.6 1249.5 1255.0C1250.2 1264.4 1251.0 1277.3 1252.0 1278.8C1253.0 1280.2 1255.1 1268.7 1256.2 1265.0C1257.4 1261.3 1258.6 1252.7 1260.0 1252.5C1261.4 1252.3 1264.4 1261.3 1266.2 1263.8C1268.1 1266.2 1271.4 1270.5 1273.0 1270.0C1274.6 1269.5 1276.3 1263.9 1277.5 1260.0C1278.7 1256.1 1280.2 1248.5 1281.2 1242.5C1282.3 1236.5 1284.1 1223.3 1285.0 1217.5C1285.9 1211.7 1286.3 1205.5 1287.5 1201.2C1288.7 1197.0 1292.3 1193.3 1293.8 1187.5C1295.2 1181.7 1296.4 1168.1 1297.5 1160.0C1298.6 1151.9 1300.4 1138.5 1301.2 1130.0C1302.1 1121.5 1303.2 1107.4 1303.8 1100.0C1304.3 1092.6 1304.1 1082.9 1305.0 1077.5C1305.9 1072.1 1308.4 1063.9 1310.0 1062.0C1311.6 1060.1 1314.8 1061.2 1316.2 1063.8C1317.7 1066.3 1318.8 1074.2 1320.0 1080.0C1321.2 1085.8 1323.8 1097.2 1325.0 1105.0C1326.2 1112.8 1327.7 1126.1 1328.8 1135.0C1329.8 1143.9 1331.3 1157.4 1332.5 1167.5C1333.7 1177.6 1336.3 1203.1 1337.5 1206.2C1338.7 1209.4 1340.2 1194.4 1341.2 1190.0C1342.3 1185.6 1343.9 1174.3 1345.0 1175.0C1346.1 1175.7 1347.8 1189.5 1348.8 1195.0C1349.7 1200.5 1350.9 1213.0 1352.0 1213.8C1353.1 1214.5 1354.9 1205.5 1356.2 1200.0C1357.6 1194.5 1359.8 1182.8 1361.2 1175.0C1362.7 1167.2 1364.8 1154.2 1366.2 1145.0C1367.7 1135.8 1369.8 1123.1 1371.2 1110.0C1372.7 1096.9 1374.8 1063.3 1376.2 1052.5C1377.7 1041.7 1379.5 1035.5 1381.2 1033.8C1383.0 1032.0 1387.2 1036.6 1388.8 1040.0C1390.3 1043.4 1391.4 1051.8 1392.5 1057.5C1393.6 1063.2 1395.2 1072.6 1396.2 1080.0C1397.3 1087.4 1398.9 1102.2 1400.0 1110.0C1401.1 1117.8 1402.7 1128.3 1403.8 1135.0C1404.8 1141.7 1406.3 1151.8 1407.5 1157.5C1408.7 1163.2 1410.9 1170.0 1412.5 1175.0C1414.1 1180.0 1417.2 1187.5 1418.8 1192.5C1420.3 1197.5 1422.5 1204.0 1423.8 1210.0C1425.0 1216.0 1426.4 1227.4 1427.5 1235.0C1428.6 1242.6 1430.2 1260.6 1431.2 1263.8C1432.3 1266.9 1433.9 1259.1 1435.0 1257.5C1436.1 1255.9 1437.7 1249.3 1438.8 1252.5C1439.8 1255.7 1441.3 1272.6 1442.5 1280.0C1443.7 1287.4 1446.3 1298.6 1447.5 1305.0C1448.7 1311.4 1450.2 1319.7 1451.2 1325.0C1452.3 1330.3 1453.8 1337.5 1455.0 1342.5C1456.2 1347.5 1458.6 1355.8 1460.0 1360.0C1461.4 1364.2 1463.6 1369.7 1465.0 1372.5C1466.4 1375.3 1468.6 1378.6 1470.0 1380.0C1471.4 1381.4 1473.6 1382.7 1475.0 1382.5C1476.4 1382.3 1478.4 1379.8 1480.0 1378.8C1481.6 1377.7 1484.5 1375.7 1486.2 1375.0C1488.0 1374.3 1490.7 1373.6 1492.5 1373.8C1494.3 1373.9 1497.0 1374.8 1498.8 1376.2C1500.5 1377.7 1503.2 1382.7 1505.0 1383.8C1506.8 1384.8 1509.5 1384.8 1511.2 1383.8C1513.0 1382.7 1515.9 1379.3 1517.5 1376.2C1519.1 1373.2 1521.1 1366.2 1522.5 1362.5C1523.9 1358.8 1526.1 1352.3 1527.5 1350.0C1528.9 1347.7 1530.9 1345.4 1532.5 1346.2C1534.1 1347.1 1536.8 1355.2 1538.8 1356.2C1540.7 1357.3 1544.1 1354.6 1546.2 1353.8C1548.4 1352.9 1551.6 1351.4 1553.8 1350.0C1555.9 1348.6 1559.1 1344.2 1561.2 1343.8C1563.4 1343.3 1566.6 1346.3 1568.8 1347.0C1570.9 1347.7 1574.1 1348.5 1576.2 1348.8C1578.4 1349.0 1581.8 1348.9 1583.8 1348.8C1585.7 1348.6 1588.1 1347.5 1590.0 1347.5C1591.9 1347.5 1595.4 1347.5 1597.5 1348.8C1599.6 1350.0 1602.9 1353.9 1605.0 1356.2C1607.1 1358.6 1610.6 1365.4 1612.5 1365.0C1614.4 1364.6 1617.0 1353.0 1618.8 1353.8C1620.5 1354.5 1623.2 1368.1 1625.0 1370.0C1626.8 1371.9 1629.3 1366.4 1631.2 1367.5C1633.2 1368.6 1636.4 1375.4 1638.8 1377.5C1641.1 1379.6 1645.0 1382.7 1647.5 1382.5C1650.0 1382.3 1653.8 1377.7 1656.2 1376.2C1658.7 1374.8 1662.9 1374.1 1665.0 1372.5C1667.1 1370.9 1669.5 1367.5 1671.2 1365.0C1673.0 1362.5 1675.4 1355.4 1677.0 1355.0C1678.6 1354.6 1680.8 1360.0 1682.5 1362.5C1684.2 1365.0 1686.8 1369.8 1688.8 1372.5C1690.7 1375.2 1693.9 1379.8 1696.2 1381.2C1698.6 1382.7 1702.3 1382.5 1705.0 1382.5C1707.7 1382.5 1712.2 1381.8 1715.0 1381.2C1717.8 1380.7 1722.1 1380.3 1725.0 1378.8C1727.9 1377.2 1732.6 1371.1 1735.5 1370.0C1738.4 1368.9 1742.7 1370.4 1745.5 1371.2C1748.3 1372.1 1753.0 1375.2 1755.5 1376.2C1758.0 1377.3 1760.7 1377.0 1763.0 1378.8C1765.3 1380.5 1769.6 1388.0 1771.8 1388.8C1773.9 1389.5 1776.2 1385.5 1778.0 1383.8C1779.8 1382.0 1782.3 1376.2 1784.2 1376.2C1786.2 1376.2 1789.4 1383.6 1791.8 1383.8C1794.1 1383.9 1798.0 1378.6 1800.5 1377.5C1803.0 1376.4 1806.9 1377.0 1809.2 1376.2C1811.6 1375.5 1814.6 1372.3 1816.8 1372.5C1818.9 1372.7 1822.7 1375.6 1824.2 1377.5C1825.8 1379.4 1826.4 1385.4 1828.0 1386.2C1829.6 1387.1 1833.4 1384.5 1835.5 1383.8C1837.6 1383.0 1840.9 1381.6 1843.0 1381.2C1845.1 1380.9 1848.4 1381.8 1850.5 1381.2C1852.6 1380.7 1855.9 1378.9 1858.0 1377.5C1860.1 1376.1 1863.4 1372.3 1865.5 1371.2C1867.6 1370.2 1871.2 1368.2 1873.0 1370.0C1874.8 1371.8 1876.6 1379.9 1878.0 1383.8C1879.4 1387.6 1881.6 1393.8 1883.0 1397.5C1884.4 1401.2 1886.6 1407.5 1888.0 1410.0C1889.4 1412.5 1891.4 1414.8 1893.0 1415.0C1894.6 1415.2 1897.7 1410.7 1899.2 1411.2C1900.8 1411.8 1903.0 1417.0 1904.2 1418.8C1905.5 1420.5 1907.5 1423.0 1908.0 1423.8" fill="none" stroke="#0572ec" stroke-width="4.3" stroke-linejoin="round" stroke-linecap="butt"/>
<path d="M1230.5 1297.5C1231.3 1296.4 1234.5 1292.8 1236.2 1290.0C1238.0 1287.2 1240.4 1280.5 1242.5 1277.5C1244.6 1274.5 1249.3 1272.3 1251.2 1268.8C1253.2 1265.2 1255.0 1256.0 1256.2 1252.5C1257.5 1249.0 1258.8 1245.5 1260.0 1243.8C1261.2 1242.0 1263.4 1240.0 1265.0 1240.0C1266.6 1240.0 1269.3 1242.5 1271.2 1243.8C1273.2 1245.0 1276.4 1247.7 1278.8 1248.8C1281.1 1249.8 1285.6 1249.3 1287.5 1251.2C1289.4 1253.2 1291.1 1258.4 1292.5 1262.5C1293.9 1266.6 1296.1 1274.7 1297.5 1280.0C1298.9 1285.3 1301.1 1294.3 1302.5 1300.0C1303.9 1305.7 1306.1 1314.7 1307.5 1320.0C1308.9 1325.3 1311.1 1334.0 1312.5 1337.5C1313.9 1341.0 1315.7 1343.4 1317.5 1345.0C1319.3 1346.6 1323.1 1347.3 1325.0 1348.8C1326.9 1350.2 1329.5 1353.1 1331.2 1355.0C1333.0 1356.9 1335.7 1360.0 1337.5 1362.5C1339.3 1365.0 1341.8 1370.4 1343.8 1372.5C1345.7 1374.6 1348.9 1376.2 1351.2 1377.5C1353.6 1378.8 1357.5 1381.3 1360.0 1382.0C1362.5 1382.7 1366.4 1383.3 1368.8 1382.5C1371.1 1381.7 1374.3 1376.2 1376.2 1376.2C1378.2 1376.2 1380.7 1381.4 1382.5 1382.5C1384.3 1383.6 1387.0 1383.9 1388.8 1383.8C1390.5 1383.6 1393.1 1380.5 1395.0 1381.2C1396.9 1382.0 1400.6 1388.4 1402.5 1388.8C1404.4 1389.1 1407.0 1383.6 1408.8 1383.8C1410.5 1383.9 1413.2 1388.1 1415.0 1390.0C1416.8 1391.9 1419.5 1395.2 1421.2 1397.5C1423.0 1399.8 1426.0 1404.3 1427.5 1406.2C1429.0 1408.2 1430.4 1411.8 1432.0 1411.2C1433.6 1410.7 1436.7 1405.0 1438.8 1402.5C1440.8 1400.0 1443.9 1395.0 1446.2 1393.8C1448.6 1392.5 1452.7 1394.1 1455.0 1393.8C1457.3 1393.4 1460.6 1391.1 1462.5 1391.2C1464.4 1391.4 1467.0 1393.9 1468.8 1395.0C1470.5 1396.1 1473.4 1400.3 1475.0 1398.8C1476.6 1397.2 1478.4 1386.8 1480.0 1383.8C1481.6 1380.7 1484.7 1378.9 1486.2 1377.5C1487.8 1376.1 1489.7 1373.9 1491.2 1373.8C1492.8 1373.6 1495.7 1373.8 1497.5 1376.2C1499.3 1378.7 1502.0 1389.7 1503.8 1391.2C1505.5 1392.8 1508.1 1388.4 1510.0 1387.5C1511.9 1386.6 1515.4 1386.1 1517.5 1385.0C1519.6 1383.9 1522.9 1381.2 1525.0 1380.0C1527.1 1378.8 1530.6 1376.2 1532.5 1376.2C1534.4 1376.2 1536.8 1379.6 1538.8 1380.0C1540.7 1380.4 1544.1 1379.6 1546.2 1378.8C1548.4 1377.9 1551.6 1373.6 1553.8 1373.8C1555.9 1373.9 1559.1 1379.1 1561.2 1380.0C1563.4 1380.9 1566.6 1380.5 1568.8 1380.0C1570.9 1379.5 1574.1 1377.1 1576.2 1376.2C1578.4 1375.4 1581.6 1373.9 1583.8 1373.8C1585.9 1373.6 1588.9 1375.0 1591.2 1375.0C1593.6 1375.0 1597.7 1374.8 1600.0 1373.8C1602.3 1372.7 1605.6 1368.0 1607.5 1367.5C1609.4 1367.0 1612.0 1367.9 1613.8 1370.0C1615.5 1372.1 1618.2 1379.5 1620.0 1382.5C1621.8 1385.5 1624.7 1392.3 1626.2 1391.2C1627.8 1390.2 1629.8 1378.5 1631.2 1375.0C1632.7 1371.5 1634.7 1367.0 1636.2 1366.2C1637.8 1365.5 1640.7 1369.1 1642.5 1370.0C1644.3 1370.9 1647.0 1372.9 1648.8 1372.5C1650.5 1372.1 1653.1 1367.5 1655.0 1367.5C1656.9 1367.5 1660.4 1372.1 1662.5 1372.5C1664.6 1372.9 1667.9 1370.2 1670.0 1370.0C1672.1 1369.8 1675.4 1370.4 1677.5 1371.2C1679.6 1372.1 1682.9 1376.2 1685.0 1376.2C1687.1 1376.2 1690.4 1371.1 1692.5 1371.2C1694.6 1371.4 1698.1 1376.1 1700.0 1377.5C1701.9 1378.9 1704.5 1383.4 1706.2 1381.2C1708.0 1379.1 1710.7 1362.9 1712.5 1362.5C1714.3 1362.1 1716.8 1376.1 1718.8 1378.8C1720.7 1381.4 1724.1 1379.5 1726.2 1381.2C1728.4 1383.0 1732.1 1391.4 1734.2 1391.2C1736.4 1391.1 1739.8 1383.0 1741.8 1380.0C1743.7 1377.0 1746.1 1370.9 1748.0 1370.0C1749.9 1369.1 1753.4 1373.4 1755.5 1373.8C1757.6 1374.1 1760.9 1372.7 1763.0 1372.5C1765.1 1372.3 1768.6 1373.2 1770.5 1372.5C1772.4 1371.8 1774.8 1366.8 1776.8 1367.5C1778.7 1368.2 1782.1 1374.8 1784.2 1377.5C1786.4 1380.2 1789.6 1386.1 1791.8 1386.2C1793.9 1386.4 1796.9 1380.2 1799.2 1378.8C1801.6 1377.3 1805.7 1377.1 1808.0 1376.2C1810.3 1375.4 1813.6 1370.6 1815.5 1372.5C1817.4 1374.4 1819.8 1388.9 1821.8 1390.0C1823.7 1391.1 1827.1 1382.7 1829.2 1380.0C1831.4 1377.3 1834.6 1373.6 1836.8 1371.2C1838.9 1368.9 1842.1 1365.2 1844.2 1363.8C1846.4 1362.3 1849.6 1361.2 1851.8 1361.2C1853.9 1361.2 1857.3 1362.7 1859.2 1363.8C1861.2 1364.8 1863.6 1369.3 1865.5 1368.8C1867.4 1368.2 1870.9 1361.8 1873.0 1360.0C1875.1 1358.2 1878.6 1357.0 1880.5 1356.2C1882.4 1355.5 1885.0 1353.8 1886.8 1355.0C1888.5 1356.2 1891.1 1362.2 1893.0 1365.0C1894.9 1367.8 1898.4 1373.1 1900.5 1375.0C1902.6 1376.9 1905.9 1378.6 1908.0 1378.8C1910.1 1378.9 1913.4 1378.0 1915.5 1376.2C1917.6 1374.5 1921.1 1367.5 1923.0 1366.2C1924.9 1365.0 1927.5 1367.7 1929.2 1367.5C1931.0 1367.3 1933.4 1366.1 1935.5 1365.0C1937.6 1363.9 1943.0 1360.7 1944.2 1360.0" fill="none" stroke="#33b34a" stroke-width="4.3" stroke-linejoin="round" stroke-linecap="butt"/>
<line x1="1232.3" y1="1370.7" x2="1962.0" y2="1370.7" stroke="#000" stroke-width="4.5" stroke-dasharray="4.4 5.505"/>
<line x1="1583.6" y1="866.3" x2="1583.6" y2="1453.2" stroke="#000" stroke-width="4.9" stroke-dasharray="39.2 15.25"/>
<rect x="1581.1" y="850.1" width="5" height="1.3" fill="#a8a8a8"/>
<path d="M1230.5 873.7V1453.2H1952.3" fill="none" stroke="#333333" stroke-width="2.3" stroke-linejoin="miter"/>
<path d="M1230.5 1453.2H1219.6M1230.5 1411.9H1225.0M1230.5 1370.6H1219.6M1230.5 1329.3H1225.0M1230.5 1287.9H1219.6M1230.5 1246.6H1225.0M1230.5 1205.3H1219.6M1230.5 1164.0H1225.0M1230.5 1122.7H1219.6M1230.5 1081.4H1225.0M1230.5 1040.1H1219.6M1230.5 998.7H1225.0M1230.5 957.4H1219.6M1230.5 916.1H1225.0M1230.5 874.8H1219.6M1230.5 1453.2V1464.1M1302.6 1453.2V1459.0M1374.6 1453.2V1464.1M1446.7 1453.2V1459.0M1518.8 1453.2V1464.1M1590.8 1453.2V1459.0M1662.9 1453.2V1464.1M1735.0 1453.2V1459.0M1807.1 1453.2V1464.1M1879.1 1453.2V1459.0M1951.2 1453.2V1464.1" fill="none" stroke="#333333" stroke-width="2.0"/>
<g font-family="Liberation Sans, Arial, sans-serif" font-size="35.4" fill="#111">
<text transform="translate(1209.1 1462.5) scale(0.9611 1)" font-size="36.83" text-anchor="end">-0.01</text>
<text transform="translate(1209.1 1379.9) scale(0.9611 1)" font-size="36.83" text-anchor="end">0.00</text>
<text transform="translate(1209.1 1297.2) scale(0.9611 1)" font-size="36.83" text-anchor="end">0.01</text>
<text transform="translate(1209.1 1214.6) scale(0.9611 1)" font-size="36.83" text-anchor="end">0.02</text>
<text transform="translate(1209.1 1132.0) scale(0.9611 1)" font-size="36.83" text-anchor="end">0.03</text>
<text transform="translate(1209.1 1049.4) scale(0.9611 1)" font-size="36.83" text-anchor="end">0.04</text>
<text transform="translate(1209.1 966.7) scale(0.9611 1)" font-size="36.83" text-anchor="end">0.05</text>
<text transform="translate(1209.1 884.1) scale(0.9611 1)" font-size="36.83" text-anchor="end">0.06</text>
<text transform="translate(1231.0 1498.9) scale(0.9611 1)" font-size="36.83" text-anchor="middle">0</text>
<text transform="translate(1375.1 1498.9) scale(0.9611 1)" font-size="36.83" text-anchor="middle">2</text>
<text transform="translate(1519.3 1498.9) scale(0.9611 1)" font-size="36.83" text-anchor="middle">4</text>
<text transform="translate(1663.4 1498.9) scale(0.9611 1)" font-size="36.83" text-anchor="middle">6</text>
<text transform="translate(1807.6 1498.9) scale(0.9611 1)" font-size="36.83" text-anchor="middle">8</text>
<text transform="translate(1951.2 1498.9) scale(0.9611 1)" font-size="36.83" text-anchor="middle">10</text>
<text transform="translate(1741.6 861.0) scale(0.9611 1)" font-size="36.83" text-anchor="start">Bare&#160; AA 7075-T651</text>
<text transform="translate(1741.6 904.7) scale(0.9611 1)" font-size="36.83" text-anchor="start">MgRP</text>
<text transform="translate(1741.6 948.4) scale(0.9611 1)" font-size="36.83" text-anchor="start">AlRP</text>
<text transform="translate(1741.6 991.8) scale(0.9611 1)" font-size="36.83" text-anchor="start">MgAlRP</text>
</g>
<line x1="1653.7" y1="850.0" x2="1734.0" y2="850.0" stroke="#000000" stroke-width="4.4" stroke-linecap="round"/>
<line x1="1653.7" y1="893.7" x2="1734.0" y2="893.7" stroke="#ff0000" stroke-width="4.4" stroke-linecap="round"/>
<line x1="1653.7" y1="937.4" x2="1734.0" y2="937.4" stroke="#0572ec" stroke-width="4.4" stroke-linecap="round"/>
<line x1="1653.7" y1="980.8" x2="1734.0" y2="980.8" stroke="#33b34a" stroke-width="4.4" stroke-linecap="round"/>
<text font-family="Liberation Sans, Arial, sans-serif" font-size="43.0" fill="#111" x="1591.3" y="1562.9" text-anchor="middle">Distance (mm)</text>
<text font-family="Liberation Sans, Arial, sans-serif" font-size="43.0" fill="#111" text-anchor="middle" transform="translate(1112.6 1162.4) rotate(-90)">jz (A/m<tspan font-size="29" dy="-15.6">2</tspan><tspan dy="15.6">)</tspan></text>
<text font-family="Liberation Serif, Times New Roman, serif" font-size="42" fill="#111" x="1090.5" y="907.6">d)</text>
</g>
</svg>
</body></html>
